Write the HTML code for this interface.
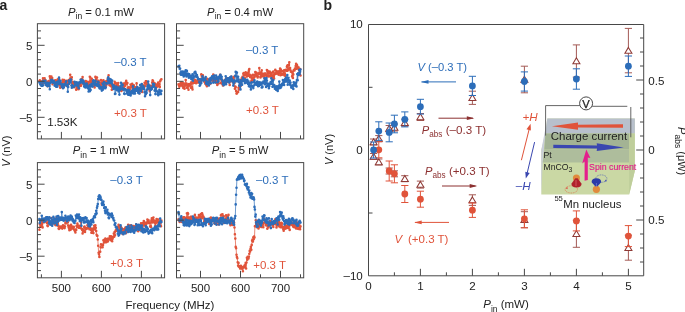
<!DOCTYPE html>
<html><head><meta charset="utf-8"><title>Figure</title>
<style>
html,body{margin:0;padding:0;background:#fff;}
svg{display:block;}
text{font-family:'Liberation Sans', Arial, Helvetica, sans-serif;}
</style></head><body>
<svg width="685" height="312" viewBox="0 0 685 312">
<rect width="685" height="312" fill="#fff"/>
<g fill="#222">
<g>
<clipPath id="c0"><rect x="37.4" y="23.7" width="127.2" height="115.2"/></clipPath>
<polyline clip-path="url(#c0)" points="39.4,81.0 39.8,80.3 40.2,81.8 40.6,81.9 41.0,81.9 41.4,82.8 41.8,84.5 42.2,83.8 42.6,80.7 43.0,78.2 43.4,82.8 43.8,82.0 44.2,81.0 44.6,78.3 45.0,81.6 45.4,80.1 45.8,84.7 46.2,83.5 46.6,84.0 47.0,82.1 47.4,82.2 47.8,86.2 48.2,84.5 48.6,81.1 49.0,82.1 49.4,83.3 49.8,76.4 50.2,77.7 50.6,78.0 51.0,80.2 51.4,76.6 51.8,78.6 52.2,78.0 52.6,84.2 53.0,83.0 53.4,81.0 53.8,81.9 54.2,80.8 54.6,82.5 55.0,82.8 55.4,80.3 55.8,80.8 56.2,80.7 56.6,83.7 57.0,84.0 57.4,80.5 57.8,79.3 58.2,80.3 58.6,84.4 59.0,83.1 59.4,81.8 59.8,85.3 60.2,87.7 60.6,85.1 61.0,83.0 61.4,85.8 61.8,85.9 62.2,84.8 62.6,79.8 63.0,82.0 63.4,80.4 63.8,80.8 64.2,80.1 64.6,82.8 65.0,81.2 65.4,84.4 65.8,83.0 66.2,85.4 66.6,80.7 67.0,83.3 67.4,84.3 67.8,83.3 68.2,82.7 68.6,80.2 69.0,84.0 69.4,81.9 69.8,79.4 70.2,74.7 70.6,78.2 71.0,79.6 71.4,79.5 71.8,77.2 72.2,83.0 72.6,85.4 73.0,82.1 73.4,84.8 73.8,84.5 74.2,87.3 74.6,83.3 75.0,83.7 75.4,84.3 75.8,84.9 76.2,89.7 76.6,85.8 77.0,88.3 77.4,87.3 77.8,85.5 78.2,88.4 78.6,89.3 79.0,85.1 79.4,86.2 79.8,84.1 80.2,83.9 80.6,84.1 81.0,85.7 81.4,79.4 81.8,80.1 82.2,79.4 82.6,77.1 83.0,80.9 83.4,84.1 83.8,83.7 84.2,83.1 84.6,83.3 85.0,81.7 85.4,85.3 85.8,81.0 86.2,85.7 86.6,82.4 87.0,85.5 87.4,84.3 87.8,81.8 88.2,82.4 88.6,83.1 89.0,85.1 89.4,82.1 89.8,76.8 90.2,77.2 90.6,80.8 91.0,82.1 91.4,83.2 91.8,78.8 92.2,82.1 92.6,84.1 93.0,84.4 93.4,84.8 93.8,85.8 94.2,86.3 94.6,87.5 95.0,83.9 95.4,76.9 95.8,81.6 96.2,79.5 96.6,77.8 97.0,77.5 97.4,82.0 97.8,81.7 98.2,81.7 98.6,80.9 99.0,83.6 99.4,82.6 99.8,86.4 100.2,84.4 100.6,85.3 101.0,80.1 101.4,87.8 101.8,82.8 102.2,83.5 102.6,81.1 103.0,81.7 103.4,80.4 103.8,86.1 104.2,82.4 104.6,85.7 105.0,84.4 105.4,81.9 105.8,84.8 106.2,85.6 106.6,81.0 107.0,83.6 107.4,81.4 107.8,78.3 108.2,78.2 108.6,75.3 109.0,80.4 109.4,85.1 109.8,82.9 110.2,83.9 110.6,85.9 111.0,83.8 111.4,86.4 111.8,89.8 112.2,84.5 112.6,86.6 113.0,85.6 113.4,85.9 113.8,84.5 114.2,85.0 114.6,81.7 115.0,83.2 115.4,82.8 115.8,83.0 116.2,86.8 116.6,85.6 117.0,85.3 117.4,84.7 117.8,88.3 118.2,83.0 118.6,86.1 119.0,89.1 119.4,89.8 119.8,87.3 120.2,87.5 120.6,89.9 121.0,88.6 121.4,91.0 121.8,88.9 122.2,90.0 122.6,89.1 123.0,87.6 123.4,83.5 123.8,88.4 124.2,85.7 124.6,86.3 125.0,83.3 125.4,85.6 125.8,82.4 126.2,80.9 126.6,83.8 127.0,83.6 127.4,83.1 127.8,87.8 128.2,88.4 128.6,88.2 129.0,87.3 129.4,88.1 129.8,89.8 130.2,87.6 130.6,84.5 131.0,85.2 131.4,85.4 131.8,86.1 132.2,83.7 132.6,88.3 133.0,90.1 133.4,90.0 133.8,85.3 134.2,87.9 134.6,87.7 135.0,90.7 135.4,87.4 135.8,88.7 136.2,87.7 136.6,83.4 137.0,88.0 137.4,90.5 137.8,88.2 138.2,89.2 138.6,88.2 139.0,90.8 139.4,93.2 139.8,89.7 140.2,88.4 140.6,89.5 141.0,85.7 141.4,88.7 141.8,88.0 142.2,91.9 142.6,87.9 143.0,85.4 143.4,87.3 143.8,87.5 144.2,86.6 144.6,82.7 145.0,86.2 145.4,83.3 145.8,81.3 146.2,81.3 146.6,84.3 147.0,81.8 147.4,84.6 147.8,84.5 148.2,86.2 148.6,89.3 149.0,88.4 149.4,87.2 149.8,91.2 150.2,88.1 150.6,85.7 151.0,88.6 151.4,86.1 151.8,87.6 152.2,82.5 152.6,80.4 153.0,81.1 153.4,84.7 153.8,82.8 154.2,84.9 154.6,84.9 155.0,83.5 155.4,89.5 155.8,84.5 156.2,87.6 156.6,86.0 157.0,86.6 157.4,86.6 157.8,83.9 158.2,82.6 158.6,85.1 159.0,84.1 159.4,84.3 159.8,86.9 160.2,81.2 160.6,80.4 161.0,79.8 161.4,79.2" fill="none" stroke="#e0533a" stroke-width="0.7"/>
<path clip-path="url(#c0)" d="M39.4 81.0h0M39.8 80.3h0M40.2 81.8h0M40.6 81.9h0M41.0 81.9h0M41.4 82.8h0M41.8 84.5h0M42.2 83.8h0M42.6 80.7h0M43.0 78.2h0M43.4 82.8h0M43.8 82.0h0M44.2 81.0h0M44.6 78.3h0M45.0 81.6h0M45.4 80.1h0M45.8 84.7h0M46.2 83.5h0M46.6 84.0h0M47.0 82.1h0M47.4 82.2h0M47.8 86.2h0M48.2 84.5h0M48.6 81.1h0M49.0 82.1h0M49.4 83.3h0M49.8 76.4h0M50.2 77.7h0M50.6 78.0h0M51.0 80.2h0M51.4 76.6h0M51.8 78.6h0M52.2 78.0h0M52.6 84.2h0M53.0 83.0h0M53.4 81.0h0M53.8 81.9h0M54.2 80.8h0M54.6 82.5h0M55.0 82.8h0M55.4 80.3h0M55.8 80.8h0M56.2 80.7h0M56.6 83.7h0M57.0 84.0h0M57.4 80.5h0M57.8 79.3h0M58.2 80.3h0M58.6 84.4h0M59.0 83.1h0M59.4 81.8h0M59.8 85.3h0M60.2 87.7h0M60.6 85.1h0M61.0 83.0h0M61.4 85.8h0M61.8 85.9h0M62.2 84.8h0M62.6 79.8h0M63.0 82.0h0M63.4 80.4h0M63.8 80.8h0M64.2 80.1h0M64.6 82.8h0M65.0 81.2h0M65.4 84.4h0M65.8 83.0h0M66.2 85.4h0M66.6 80.7h0M67.0 83.3h0M67.4 84.3h0M67.8 83.3h0M68.2 82.7h0M68.6 80.2h0M69.0 84.0h0M69.4 81.9h0M69.8 79.4h0M70.2 74.7h0M70.6 78.2h0M71.0 79.6h0M71.4 79.5h0M71.8 77.2h0M72.2 83.0h0M72.6 85.4h0M73.0 82.1h0M73.4 84.8h0M73.8 84.5h0M74.2 87.3h0M74.6 83.3h0M75.0 83.7h0M75.4 84.3h0M75.8 84.9h0M76.2 89.7h0M76.6 85.8h0M77.0 88.3h0M77.4 87.3h0M77.8 85.5h0M78.2 88.4h0M78.6 89.3h0M79.0 85.1h0M79.4 86.2h0M79.8 84.1h0M80.2 83.9h0M80.6 84.1h0M81.0 85.7h0M81.4 79.4h0M81.8 80.1h0M82.2 79.4h0M82.6 77.1h0M83.0 80.9h0M83.4 84.1h0M83.8 83.7h0M84.2 83.1h0M84.6 83.3h0M85.0 81.7h0M85.4 85.3h0M85.8 81.0h0M86.2 85.7h0M86.6 82.4h0M87.0 85.5h0M87.4 84.3h0M87.8 81.8h0M88.2 82.4h0M88.6 83.1h0M89.0 85.1h0M89.4 82.1h0M89.8 76.8h0M90.2 77.2h0M90.6 80.8h0M91.0 82.1h0M91.4 83.2h0M91.8 78.8h0M92.2 82.1h0M92.6 84.1h0M93.0 84.4h0M93.4 84.8h0M93.8 85.8h0M94.2 86.3h0M94.6 87.5h0M95.0 83.9h0M95.4 76.9h0M95.8 81.6h0M96.2 79.5h0M96.6 77.8h0M97.0 77.5h0M97.4 82.0h0M97.8 81.7h0M98.2 81.7h0M98.6 80.9h0M99.0 83.6h0M99.4 82.6h0M99.8 86.4h0M100.2 84.4h0M100.6 85.3h0M101.0 80.1h0M101.4 87.8h0M101.8 82.8h0M102.2 83.5h0M102.6 81.1h0M103.0 81.7h0M103.4 80.4h0M103.8 86.1h0M104.2 82.4h0M104.6 85.7h0M105.0 84.4h0M105.4 81.9h0M105.8 84.8h0M106.2 85.6h0M106.6 81.0h0M107.0 83.6h0M107.4 81.4h0M107.8 78.3h0M108.2 78.2h0M108.6 75.3h0M109.0 80.4h0M109.4 85.1h0M109.8 82.9h0M110.2 83.9h0M110.6 85.9h0M111.0 83.8h0M111.4 86.4h0M111.8 89.8h0M112.2 84.5h0M112.6 86.6h0M113.0 85.6h0M113.4 85.9h0M113.8 84.5h0M114.2 85.0h0M114.6 81.7h0M115.0 83.2h0M115.4 82.8h0M115.8 83.0h0M116.2 86.8h0M116.6 85.6h0M117.0 85.3h0M117.4 84.7h0M117.8 88.3h0M118.2 83.0h0M118.6 86.1h0M119.0 89.1h0M119.4 89.8h0M119.8 87.3h0M120.2 87.5h0M120.6 89.9h0M121.0 88.6h0M121.4 91.0h0M121.8 88.9h0M122.2 90.0h0M122.6 89.1h0M123.0 87.6h0M123.4 83.5h0M123.8 88.4h0M124.2 85.7h0M124.6 86.3h0M125.0 83.3h0M125.4 85.6h0M125.8 82.4h0M126.2 80.9h0M126.6 83.8h0M127.0 83.6h0M127.4 83.1h0M127.8 87.8h0M128.2 88.4h0M128.6 88.2h0M129.0 87.3h0M129.4 88.1h0M129.8 89.8h0M130.2 87.6h0M130.6 84.5h0M131.0 85.2h0M131.4 85.4h0M131.8 86.1h0M132.2 83.7h0M132.6 88.3h0M133.0 90.1h0M133.4 90.0h0M133.8 85.3h0M134.2 87.9h0M134.6 87.7h0M135.0 90.7h0M135.4 87.4h0M135.8 88.7h0M136.2 87.7h0M136.6 83.4h0M137.0 88.0h0M137.4 90.5h0M137.8 88.2h0M138.2 89.2h0M138.6 88.2h0M139.0 90.8h0M139.4 93.2h0M139.8 89.7h0M140.2 88.4h0M140.6 89.5h0M141.0 85.7h0M141.4 88.7h0M141.8 88.0h0M142.2 91.9h0M142.6 87.9h0M143.0 85.4h0M143.4 87.3h0M143.8 87.5h0M144.2 86.6h0M144.6 82.7h0M145.0 86.2h0M145.4 83.3h0M145.8 81.3h0M146.2 81.3h0M146.6 84.3h0M147.0 81.8h0M147.4 84.6h0M147.8 84.5h0M148.2 86.2h0M148.6 89.3h0M149.0 88.4h0M149.4 87.2h0M149.8 91.2h0M150.2 88.1h0M150.6 85.7h0M151.0 88.6h0M151.4 86.1h0M151.8 87.6h0M152.2 82.5h0M152.6 80.4h0M153.0 81.1h0M153.4 84.7h0M153.8 82.8h0M154.2 84.9h0M154.6 84.9h0M155.0 83.5h0M155.4 89.5h0M155.8 84.5h0M156.2 87.6h0M156.6 86.0h0M157.0 86.6h0M157.4 86.6h0M157.8 83.9h0M158.2 82.6h0M158.6 85.1h0M159.0 84.1h0M159.4 84.3h0M159.8 86.9h0M160.2 81.2h0M160.6 80.4h0M161.0 79.8h0M161.4 79.2h0" stroke="#e0533a" stroke-width="2.6" stroke-linecap="round"/>
<polyline clip-path="url(#c0)" points="39.4,82.5 39.8,82.7 40.2,84.1 40.6,84.8 41.0,84.5 41.4,85.7 41.8,85.4 42.2,81.8 42.6,85.8 43.0,85.3 43.4,81.9 43.8,80.9 44.2,81.8 44.6,82.7 45.0,81.9 45.4,80.8 45.8,84.8 46.2,82.7 46.6,85.4 47.0,83.9 47.4,86.1 47.8,82.9 48.2,85.1 48.6,83.8 49.0,84.7 49.4,86.0 49.8,89.2 50.2,83.0 50.6,82.2 51.0,80.1 51.4,80.2 51.8,79.7 52.2,80.4 52.6,82.5 53.0,80.5 53.4,82.8 53.8,81.0 54.2,82.2 54.6,85.6 55.0,84.7 55.4,82.7 55.8,83.0 56.2,86.7 56.6,85.0 57.0,82.0 57.4,86.6 57.8,81.5 58.2,83.2 58.6,84.0 59.0,77.5 59.4,79.5 59.8,82.9 60.2,82.2 60.6,81.1 61.0,84.4 61.4,84.6 61.8,87.0 62.2,85.5 62.6,84.3 63.0,88.3 63.4,87.4 63.8,87.4 64.2,84.2 64.6,85.3 65.0,84.7 65.4,84.5 65.8,82.0 66.2,81.2 66.6,85.3 67.0,86.1 67.4,85.5 67.8,91.7 68.2,87.0 68.6,84.1 69.0,80.5 69.4,81.8 69.8,82.1 70.2,82.4 70.6,81.4 71.0,79.5 71.4,85.5 71.8,87.7 72.2,85.2 72.6,86.8 73.0,86.6 73.4,87.0 73.8,86.3 74.2,86.6 74.6,81.9 75.0,83.3 75.4,84.7 75.8,82.6 76.2,85.3 76.6,82.2 77.0,84.3 77.4,82.6 77.8,86.0 78.2,84.4 78.6,87.9 79.0,88.2 79.4,82.4 79.8,83.0 80.2,82.1 80.6,79.7 81.0,81.1 81.4,82.2 81.8,79.7 82.2,81.1 82.6,81.8 83.0,83.2 83.4,80.8 83.8,82.6 84.2,86.6 84.6,85.3 85.0,84.1 85.4,87.4 85.8,83.7 86.2,85.9 86.6,83.5 87.0,84.2 87.4,86.2 87.8,88.1 88.2,87.2 88.6,91.5 89.0,89.4 89.4,85.7 89.8,91.3 90.2,84.9 90.6,90.1 91.0,85.4 91.4,86.3 91.8,83.7 92.2,84.3 92.6,86.6 93.0,81.0 93.4,80.2 93.8,82.8 94.2,83.5 94.6,82.9 95.0,85.3 95.4,80.7 95.8,85.2 96.2,84.1 96.6,84.7 97.0,84.0 97.4,85.9 97.8,81.8 98.2,86.1 98.6,82.3 99.0,85.0 99.4,88.1 99.8,88.4 100.2,86.9 100.6,87.2 101.0,87.3 101.4,88.5 101.8,90.6 102.2,87.4 102.6,83.5 103.0,89.6 103.4,88.2 103.8,85.3 104.2,82.1 104.6,87.3 105.0,86.5 105.4,88.3 105.8,87.5 106.2,83.4 106.6,83.5 107.0,83.4 107.4,83.5 107.8,79.6 108.2,77.4 108.6,79.2 109.0,81.8 109.4,82.9 109.8,79.1 110.2,81.7 110.6,79.2 111.0,82.3 111.4,83.1 111.8,83.5 112.2,80.5 112.6,85.1 113.0,86.5 113.4,88.9 113.8,85.6 114.2,87.1 114.6,88.5 115.0,93.9 115.4,93.7 115.8,88.5 116.2,86.6 116.6,90.1 117.0,88.6 117.4,89.8 117.8,88.6 118.2,87.5 118.6,91.5 119.0,88.7 119.4,94.6 119.8,89.9 120.2,88.8 120.6,86.4 121.0,82.7 121.4,83.5 121.8,89.1 122.2,89.1 122.6,84.9 123.0,89.1 123.4,88.5 123.8,89.8 124.2,93.7 124.6,94.0 125.0,89.2 125.4,89.2 125.8,89.8 126.2,90.1 126.6,91.0 127.0,93.4 127.4,90.5 127.8,92.3 128.2,94.7 128.6,89.9 129.0,91.4 129.4,90.9 129.8,93.3 130.2,94.9 130.6,95.5 131.0,93.8 131.4,92.0 131.8,93.0 132.2,90.6 132.6,91.3 133.0,86.4 133.4,93.4 133.8,89.2 134.2,92.1 134.6,91.3 135.0,93.5 135.4,90.9 135.8,88.8 136.2,89.3 136.6,90.7 137.0,89.8 137.4,87.1 137.8,89.1 138.2,92.7 138.6,90.1 139.0,93.3 139.4,93.5 139.8,88.4 140.2,85.0 140.6,89.1 141.0,91.3 141.4,89.1 141.8,84.0 142.2,86.2 142.6,88.4 143.0,87.9 143.4,86.4 143.8,88.0 144.2,89.2 144.6,92.3 145.0,96.2 145.4,92.4 145.8,94.3 146.2,91.2 146.6,92.9 147.0,89.5 147.4,86.2 147.8,87.5 148.2,81.5 148.6,84.5 149.0,88.4 149.4,85.9 149.8,88.0 150.2,95.1 150.6,88.7 151.0,89.8 151.4,88.3 151.8,89.1 152.2,87.5 152.6,86.7 153.0,83.9 153.4,86.7 153.8,86.3 154.2,84.4 154.6,90.6 155.0,90.3 155.4,94.1 155.8,87.9 156.2,90.4 156.6,91.2 157.0,91.3 157.4,91.6 157.8,94.2 158.2,95.3 158.6,94.7 159.0,92.2 159.4,89.7 159.8,91.5 160.2,91.6 160.6,93.7 161.0,94.1 161.4,90.9" fill="none" stroke="#2c6db9" stroke-width="0.7"/>
<path clip-path="url(#c0)" d="M39.4 82.5h0M39.8 82.7h0M40.2 84.1h0M40.6 84.8h0M41.0 84.5h0M41.4 85.7h0M41.8 85.4h0M42.2 81.8h0M42.6 85.8h0M43.0 85.3h0M43.4 81.9h0M43.8 80.9h0M44.2 81.8h0M44.6 82.7h0M45.0 81.9h0M45.4 80.8h0M45.8 84.8h0M46.2 82.7h0M46.6 85.4h0M47.0 83.9h0M47.4 86.1h0M47.8 82.9h0M48.2 85.1h0M48.6 83.8h0M49.0 84.7h0M49.4 86.0h0M49.8 89.2h0M50.2 83.0h0M50.6 82.2h0M51.0 80.1h0M51.4 80.2h0M51.8 79.7h0M52.2 80.4h0M52.6 82.5h0M53.0 80.5h0M53.4 82.8h0M53.8 81.0h0M54.2 82.2h0M54.6 85.6h0M55.0 84.7h0M55.4 82.7h0M55.8 83.0h0M56.2 86.7h0M56.6 85.0h0M57.0 82.0h0M57.4 86.6h0M57.8 81.5h0M58.2 83.2h0M58.6 84.0h0M59.0 77.5h0M59.4 79.5h0M59.8 82.9h0M60.2 82.2h0M60.6 81.1h0M61.0 84.4h0M61.4 84.6h0M61.8 87.0h0M62.2 85.5h0M62.6 84.3h0M63.0 88.3h0M63.4 87.4h0M63.8 87.4h0M64.2 84.2h0M64.6 85.3h0M65.0 84.7h0M65.4 84.5h0M65.8 82.0h0M66.2 81.2h0M66.6 85.3h0M67.0 86.1h0M67.4 85.5h0M67.8 91.7h0M68.2 87.0h0M68.6 84.1h0M69.0 80.5h0M69.4 81.8h0M69.8 82.1h0M70.2 82.4h0M70.6 81.4h0M71.0 79.5h0M71.4 85.5h0M71.8 87.7h0M72.2 85.2h0M72.6 86.8h0M73.0 86.6h0M73.4 87.0h0M73.8 86.3h0M74.2 86.6h0M74.6 81.9h0M75.0 83.3h0M75.4 84.7h0M75.8 82.6h0M76.2 85.3h0M76.6 82.2h0M77.0 84.3h0M77.4 82.6h0M77.8 86.0h0M78.2 84.4h0M78.6 87.9h0M79.0 88.2h0M79.4 82.4h0M79.8 83.0h0M80.2 82.1h0M80.6 79.7h0M81.0 81.1h0M81.4 82.2h0M81.8 79.7h0M82.2 81.1h0M82.6 81.8h0M83.0 83.2h0M83.4 80.8h0M83.8 82.6h0M84.2 86.6h0M84.6 85.3h0M85.0 84.1h0M85.4 87.4h0M85.8 83.7h0M86.2 85.9h0M86.6 83.5h0M87.0 84.2h0M87.4 86.2h0M87.8 88.1h0M88.2 87.2h0M88.6 91.5h0M89.0 89.4h0M89.4 85.7h0M89.8 91.3h0M90.2 84.9h0M90.6 90.1h0M91.0 85.4h0M91.4 86.3h0M91.8 83.7h0M92.2 84.3h0M92.6 86.6h0M93.0 81.0h0M93.4 80.2h0M93.8 82.8h0M94.2 83.5h0M94.6 82.9h0M95.0 85.3h0M95.4 80.7h0M95.8 85.2h0M96.2 84.1h0M96.6 84.7h0M97.0 84.0h0M97.4 85.9h0M97.8 81.8h0M98.2 86.1h0M98.6 82.3h0M99.0 85.0h0M99.4 88.1h0M99.8 88.4h0M100.2 86.9h0M100.6 87.2h0M101.0 87.3h0M101.4 88.5h0M101.8 90.6h0M102.2 87.4h0M102.6 83.5h0M103.0 89.6h0M103.4 88.2h0M103.8 85.3h0M104.2 82.1h0M104.6 87.3h0M105.0 86.5h0M105.4 88.3h0M105.8 87.5h0M106.2 83.4h0M106.6 83.5h0M107.0 83.4h0M107.4 83.5h0M107.8 79.6h0M108.2 77.4h0M108.6 79.2h0M109.0 81.8h0M109.4 82.9h0M109.8 79.1h0M110.2 81.7h0M110.6 79.2h0M111.0 82.3h0M111.4 83.1h0M111.8 83.5h0M112.2 80.5h0M112.6 85.1h0M113.0 86.5h0M113.4 88.9h0M113.8 85.6h0M114.2 87.1h0M114.6 88.5h0M115.0 93.9h0M115.4 93.7h0M115.8 88.5h0M116.2 86.6h0M116.6 90.1h0M117.0 88.6h0M117.4 89.8h0M117.8 88.6h0M118.2 87.5h0M118.6 91.5h0M119.0 88.7h0M119.4 94.6h0M119.8 89.9h0M120.2 88.8h0M120.6 86.4h0M121.0 82.7h0M121.4 83.5h0M121.8 89.1h0M122.2 89.1h0M122.6 84.9h0M123.0 89.1h0M123.4 88.5h0M123.8 89.8h0M124.2 93.7h0M124.6 94.0h0M125.0 89.2h0M125.4 89.2h0M125.8 89.8h0M126.2 90.1h0M126.6 91.0h0M127.0 93.4h0M127.4 90.5h0M127.8 92.3h0M128.2 94.7h0M128.6 89.9h0M129.0 91.4h0M129.4 90.9h0M129.8 93.3h0M130.2 94.9h0M130.6 95.5h0M131.0 93.8h0M131.4 92.0h0M131.8 93.0h0M132.2 90.6h0M132.6 91.3h0M133.0 86.4h0M133.4 93.4h0M133.8 89.2h0M134.2 92.1h0M134.6 91.3h0M135.0 93.5h0M135.4 90.9h0M135.8 88.8h0M136.2 89.3h0M136.6 90.7h0M137.0 89.8h0M137.4 87.1h0M137.8 89.1h0M138.2 92.7h0M138.6 90.1h0M139.0 93.3h0M139.4 93.5h0M139.8 88.4h0M140.2 85.0h0M140.6 89.1h0M141.0 91.3h0M141.4 89.1h0M141.8 84.0h0M142.2 86.2h0M142.6 88.4h0M143.0 87.9h0M143.4 86.4h0M143.8 88.0h0M144.2 89.2h0M144.6 92.3h0M145.0 96.2h0M145.4 92.4h0M145.8 94.3h0M146.2 91.2h0M146.6 92.9h0M147.0 89.5h0M147.4 86.2h0M147.8 87.5h0M148.2 81.5h0M148.6 84.5h0M149.0 88.4h0M149.4 85.9h0M149.8 88.0h0M150.2 95.1h0M150.6 88.7h0M151.0 89.8h0M151.4 88.3h0M151.8 89.1h0M152.2 87.5h0M152.6 86.7h0M153.0 83.9h0M153.4 86.7h0M153.8 86.3h0M154.2 84.4h0M154.6 90.6h0M155.0 90.3h0M155.4 94.1h0M155.8 87.9h0M156.2 90.4h0M156.6 91.2h0M157.0 91.3h0M157.4 91.6h0M157.8 94.2h0M158.2 95.3h0M158.6 94.7h0M159.0 92.2h0M159.4 89.7h0M159.8 91.5h0M160.2 91.6h0M160.6 93.7h0M161.0 94.1h0M161.4 90.9h0" stroke="#2c6db9" stroke-width="2.6" stroke-linecap="round"/>
<rect x="37.4" y="23.7" width="127.2" height="115.2" fill="none" stroke="#474747" stroke-width="1"/>
<path d="M37.4 131.7h3.6M37.4 124.5h3.6M37.4 117.3h7.2M37.4 110.1h3.6M37.4 102.9h3.6M37.4 95.7h3.6M37.4 88.5h3.6M37.4 81.3h7.2M37.4 74.1h3.6M37.4 66.9h3.6M37.4 59.7h3.6M37.4 52.5h3.6M37.4 45.3h7.2M37.4 38.1h3.6M37.4 30.9h3.6M41.4 138.9v-3.5M61.4 138.9v-7.0M81.4 138.9v-3.5M101.4 138.9v-7.0M121.4 138.9v-3.5M141.4 138.9v-7.0M161.4 138.9v-3.5" stroke="#474747" stroke-width="1" fill="none"/>
<text x="101.0" y="15.5" text-anchor="middle" font-size="11.3"><tspan font-style="italic">P</tspan><tspan font-size="8.5" dy="3.7">in</tspan><tspan dy="-3.7"> = 0.1 mW</tspan></text>
<text x="32.5" y="49.6" text-anchor="end" font-size="11.5">5</text>
<text x="32.5" y="85.6" text-anchor="end" font-size="11.5">0</text>
<text x="32.5" y="121.6" text-anchor="end" font-size="11.5"><tspan dy="-0.9">–</tspan><tspan dy="0.9">5</tspan></text>
</g>
<g>
<clipPath id="c1"><rect x="176.5" y="23.7" width="127.2" height="115.2"/></clipPath>
<polyline clip-path="url(#c1)" points="178.5,84.4 178.9,85.3 179.3,86.7 179.7,85.5 180.1,84.9 180.5,83.6 180.9,82.5 181.3,85.4 181.7,82.5 182.1,85.3 182.5,84.4 182.9,86.8 183.3,88.0 183.7,83.4 184.1,87.9 184.5,88.8 184.9,85.8 185.3,84.6 185.7,80.1 186.1,84.0 186.5,83.5 186.9,87.8 187.3,84.9 187.7,86.4 188.1,84.7 188.5,89.7 188.9,85.8 189.3,84.0 189.7,85.5 190.1,84.3 190.5,84.7 190.9,87.7 191.3,82.4 191.7,83.4 192.1,87.3 192.5,89.4 192.9,83.3 193.3,82.8 193.7,82.7 194.1,80.3 194.5,82.6 194.9,79.8 195.3,80.7 195.7,80.8 196.1,83.3 196.5,80.6 196.9,80.8 197.3,82.5 197.7,81.9 198.1,82.4 198.5,80.9 198.9,82.0 199.3,82.6 199.7,79.9 200.1,80.7 200.5,81.7 200.9,81.0 201.3,74.4 201.7,75.5 202.1,76.5 202.5,78.9 202.9,75.3 203.3,77.8 203.7,80.2 204.1,80.5 204.5,81.9 204.9,80.7 205.3,83.8 205.7,79.9 206.1,84.7 206.5,81.8 206.9,86.3 207.3,78.9 207.7,83.8 208.1,82.6 208.5,81.3 208.9,79.7 209.3,81.9 209.7,79.7 210.1,83.7 210.5,80.2 210.9,78.9 211.3,79.5 211.7,79.9 212.1,79.9 212.5,80.7 212.9,77.3 213.3,74.5 213.7,80.5 214.1,77.2 214.5,78.0 214.9,77.7 215.3,81.1 215.7,80.0 216.1,82.4 216.5,81.2 216.9,82.7 217.3,84.9 217.7,82.4 218.1,81.4 218.5,83.4 218.9,78.2 219.3,78.4 219.7,78.1 220.1,74.9 220.5,76.5 220.9,83.1 221.3,83.0 221.7,79.8 222.1,80.5 222.5,84.1 222.9,85.4 223.3,82.7 223.7,81.6 224.1,84.0 224.5,80.6 224.9,82.4 225.3,83.1 225.7,79.3 226.1,82.5 226.5,80.9 226.9,78.3 227.3,79.5 227.7,81.8 228.1,80.9 228.5,82.1 228.9,78.3 229.3,81.3 229.7,85.0 230.1,81.5 230.5,80.8 230.9,79.9 231.3,76.7 231.7,77.7 232.1,80.3 232.5,80.7 232.9,82.2 233.3,78.6 233.7,80.5 234.1,76.8 234.5,83.0 234.9,88.7 235.3,86.5 235.7,87.0 236.1,91.0 236.5,93.6 236.9,93.5 237.3,92.2 237.7,92.3 238.1,92.0 238.5,87.8 238.9,89.4 239.3,85.7 239.7,86.6 240.1,83.5 240.5,80.6 240.9,85.6 241.3,81.1 241.7,78.4 242.1,78.6 242.5,76.7 242.9,78.7 243.3,73.8 243.7,73.0 244.1,74.9 244.5,78.3 244.9,78.2 245.3,74.8 245.7,72.2 246.1,74.8 246.5,73.6 246.9,76.5 247.3,75.0 247.7,73.7 248.1,72.5 248.5,75.6 248.9,70.4 249.3,69.0 249.7,74.8 250.1,77.1 250.5,75.4 250.9,76.6 251.3,81.3 251.7,75.8 252.1,78.3 252.5,80.5 252.9,74.7 253.3,78.5 253.7,79.7 254.1,77.4 254.5,77.1 254.9,74.9 255.3,72.0 255.7,74.2 256.1,75.5 256.5,72.7 256.9,75.2 257.3,76.7 257.7,77.4 258.1,76.5 258.5,73.8 258.9,73.3 259.3,68.1 259.7,74.0 260.1,73.8 260.5,77.4 260.9,74.6 261.3,72.1 261.7,70.2 262.1,76.2 262.5,74.0 262.9,74.4 263.3,73.9 263.7,76.2 264.1,74.4 264.5,78.6 264.9,73.5 265.3,73.6 265.7,74.8 266.1,75.6 266.5,76.5 266.9,70.1 267.3,76.0 267.7,70.9 268.1,73.2 268.5,75.9 268.9,76.5 269.3,72.9 269.7,71.6 270.1,76.0 270.5,76.3 270.9,74.2 271.3,74.7 271.7,72.9 272.1,77.8 272.5,75.6 272.9,79.5 273.3,71.6 273.7,76.4 274.1,78.5 274.5,74.5 274.9,73.5 275.3,69.8 275.7,73.7 276.1,73.7 276.5,73.1 276.9,71.3 277.3,73.5 277.7,71.5 278.1,73.5 278.5,74.6 278.9,71.6 279.3,71.0 279.7,72.6 280.1,68.5 280.5,75.2 280.9,69.6 281.3,70.9 281.7,73.7 282.1,74.8 282.5,74.6 282.9,73.7 283.3,71.0 283.7,72.3 284.1,70.4 284.5,75.4 284.9,73.8 285.3,75.9 285.7,69.7 286.1,70.4 286.5,70.7 286.9,66.7 287.3,65.6 287.7,70.6 288.1,65.0 288.5,69.3 288.9,64.9 289.3,62.2 289.7,68.5 290.1,68.0 290.5,70.4 290.9,71.8 291.3,71.6 291.7,72.1 292.1,76.4 292.5,71.8 292.9,77.9 293.3,74.4 293.7,70.3 294.1,70.4 294.5,70.5 294.9,68.6 295.3,69.0 295.7,66.0 296.1,63.9 296.5,68.8 296.9,64.7 297.3,66.3 297.7,68.3 298.1,68.1 298.5,67.4 298.9,69.7 299.3,70.4 299.7,72.5 300.1,69.1 300.5,75.5" fill="none" stroke="#e0533a" stroke-width="0.7"/>
<path clip-path="url(#c1)" d="M178.5 84.4h0M178.9 85.3h0M179.3 86.7h0M179.7 85.5h0M180.1 84.9h0M180.5 83.6h0M180.9 82.5h0M181.3 85.4h0M181.7 82.5h0M182.1 85.3h0M182.5 84.4h0M182.9 86.8h0M183.3 88.0h0M183.7 83.4h0M184.1 87.9h0M184.5 88.8h0M184.9 85.8h0M185.3 84.6h0M185.7 80.1h0M186.1 84.0h0M186.5 83.5h0M186.9 87.8h0M187.3 84.9h0M187.7 86.4h0M188.1 84.7h0M188.5 89.7h0M188.9 85.8h0M189.3 84.0h0M189.7 85.5h0M190.1 84.3h0M190.5 84.7h0M190.9 87.7h0M191.3 82.4h0M191.7 83.4h0M192.1 87.3h0M192.5 89.4h0M192.9 83.3h0M193.3 82.8h0M193.7 82.7h0M194.1 80.3h0M194.5 82.6h0M194.9 79.8h0M195.3 80.7h0M195.7 80.8h0M196.1 83.3h0M196.5 80.6h0M196.9 80.8h0M197.3 82.5h0M197.7 81.9h0M198.1 82.4h0M198.5 80.9h0M198.9 82.0h0M199.3 82.6h0M199.7 79.9h0M200.1 80.7h0M200.5 81.7h0M200.9 81.0h0M201.3 74.4h0M201.7 75.5h0M202.1 76.5h0M202.5 78.9h0M202.9 75.3h0M203.3 77.8h0M203.7 80.2h0M204.1 80.5h0M204.5 81.9h0M204.9 80.7h0M205.3 83.8h0M205.7 79.9h0M206.1 84.7h0M206.5 81.8h0M206.9 86.3h0M207.3 78.9h0M207.7 83.8h0M208.1 82.6h0M208.5 81.3h0M208.9 79.7h0M209.3 81.9h0M209.7 79.7h0M210.1 83.7h0M210.5 80.2h0M210.9 78.9h0M211.3 79.5h0M211.7 79.9h0M212.1 79.9h0M212.5 80.7h0M212.9 77.3h0M213.3 74.5h0M213.7 80.5h0M214.1 77.2h0M214.5 78.0h0M214.9 77.7h0M215.3 81.1h0M215.7 80.0h0M216.1 82.4h0M216.5 81.2h0M216.9 82.7h0M217.3 84.9h0M217.7 82.4h0M218.1 81.4h0M218.5 83.4h0M218.9 78.2h0M219.3 78.4h0M219.7 78.1h0M220.1 74.9h0M220.5 76.5h0M220.9 83.1h0M221.3 83.0h0M221.7 79.8h0M222.1 80.5h0M222.5 84.1h0M222.9 85.4h0M223.3 82.7h0M223.7 81.6h0M224.1 84.0h0M224.5 80.6h0M224.9 82.4h0M225.3 83.1h0M225.7 79.3h0M226.1 82.5h0M226.5 80.9h0M226.9 78.3h0M227.3 79.5h0M227.7 81.8h0M228.1 80.9h0M228.5 82.1h0M228.9 78.3h0M229.3 81.3h0M229.7 85.0h0M230.1 81.5h0M230.5 80.8h0M230.9 79.9h0M231.3 76.7h0M231.7 77.7h0M232.1 80.3h0M232.5 80.7h0M232.9 82.2h0M233.3 78.6h0M233.7 80.5h0M234.1 76.8h0M234.5 83.0h0M234.9 88.7h0M235.3 86.5h0M235.7 87.0h0M236.1 91.0h0M236.5 93.6h0M236.9 93.5h0M237.3 92.2h0M237.7 92.3h0M238.1 92.0h0M238.5 87.8h0M238.9 89.4h0M239.3 85.7h0M239.7 86.6h0M240.1 83.5h0M240.5 80.6h0M240.9 85.6h0M241.3 81.1h0M241.7 78.4h0M242.1 78.6h0M242.5 76.7h0M242.9 78.7h0M243.3 73.8h0M243.7 73.0h0M244.1 74.9h0M244.5 78.3h0M244.9 78.2h0M245.3 74.8h0M245.7 72.2h0M246.1 74.8h0M246.5 73.6h0M246.9 76.5h0M247.3 75.0h0M247.7 73.7h0M248.1 72.5h0M248.5 75.6h0M248.9 70.4h0M249.3 69.0h0M249.7 74.8h0M250.1 77.1h0M250.5 75.4h0M250.9 76.6h0M251.3 81.3h0M251.7 75.8h0M252.1 78.3h0M252.5 80.5h0M252.9 74.7h0M253.3 78.5h0M253.7 79.7h0M254.1 77.4h0M254.5 77.1h0M254.9 74.9h0M255.3 72.0h0M255.7 74.2h0M256.1 75.5h0M256.5 72.7h0M256.9 75.2h0M257.3 76.7h0M257.7 77.4h0M258.1 76.5h0M258.5 73.8h0M258.9 73.3h0M259.3 68.1h0M259.7 74.0h0M260.1 73.8h0M260.5 77.4h0M260.9 74.6h0M261.3 72.1h0M261.7 70.2h0M262.1 76.2h0M262.5 74.0h0M262.9 74.4h0M263.3 73.9h0M263.7 76.2h0M264.1 74.4h0M264.5 78.6h0M264.9 73.5h0M265.3 73.6h0M265.7 74.8h0M266.1 75.6h0M266.5 76.5h0M266.9 70.1h0M267.3 76.0h0M267.7 70.9h0M268.1 73.2h0M268.5 75.9h0M268.9 76.5h0M269.3 72.9h0M269.7 71.6h0M270.1 76.0h0M270.5 76.3h0M270.9 74.2h0M271.3 74.7h0M271.7 72.9h0M272.1 77.8h0M272.5 75.6h0M272.9 79.5h0M273.3 71.6h0M273.7 76.4h0M274.1 78.5h0M274.5 74.5h0M274.9 73.5h0M275.3 69.8h0M275.7 73.7h0M276.1 73.7h0M276.5 73.1h0M276.9 71.3h0M277.3 73.5h0M277.7 71.5h0M278.1 73.5h0M278.5 74.6h0M278.9 71.6h0M279.3 71.0h0M279.7 72.6h0M280.1 68.5h0M280.5 75.2h0M280.9 69.6h0M281.3 70.9h0M281.7 73.7h0M282.1 74.8h0M282.5 74.6h0M282.9 73.7h0M283.3 71.0h0M283.7 72.3h0M284.1 70.4h0M284.5 75.4h0M284.9 73.8h0M285.3 75.9h0M285.7 69.7h0M286.1 70.4h0M286.5 70.7h0M286.9 66.7h0M287.3 65.6h0M287.7 70.6h0M288.1 65.0h0M288.5 69.3h0M288.9 64.9h0M289.3 62.2h0M289.7 68.5h0M290.1 68.0h0M290.5 70.4h0M290.9 71.8h0M291.3 71.6h0M291.7 72.1h0M292.1 76.4h0M292.5 71.8h0M292.9 77.9h0M293.3 74.4h0M293.7 70.3h0M294.1 70.4h0M294.5 70.5h0M294.9 68.6h0M295.3 69.0h0M295.7 66.0h0M296.1 63.9h0M296.5 68.8h0M296.9 64.7h0M297.3 66.3h0M297.7 68.3h0M298.1 68.1h0M298.5 67.4h0M298.9 69.7h0M299.3 70.4h0M299.7 72.5h0M300.1 69.1h0M300.5 75.5h0" stroke="#e0533a" stroke-width="2.6" stroke-linecap="round"/>
<polyline clip-path="url(#c1)" points="178.5,66.4 178.9,66.1 179.3,65.8 179.7,68.8 180.1,68.6 180.5,72.9 180.9,74.7 181.3,71.9 181.7,71.8 182.1,74.6 182.5,74.7 182.9,71.5 183.3,73.1 183.7,76.5 184.1,72.9 184.5,74.7 184.9,75.1 185.3,71.4 185.7,70.2 186.1,73.7 186.5,76.4 186.9,70.9 187.3,75.4 187.7,75.4 188.1,73.7 188.5,75.1 188.9,77.7 189.3,74.4 189.7,76.3 190.1,76.9 190.5,77.0 190.9,76.0 191.3,79.1 191.7,78.1 192.1,78.9 192.5,74.4 192.9,80.7 193.3,75.4 193.7,77.7 194.1,76.7 194.5,72.5 194.9,72.4 195.3,71.7 195.7,73.3 196.1,75.8 196.5,76.9 196.9,75.1 197.3,76.9 197.7,77.5 198.1,79.3 198.5,79.1 198.9,79.0 199.3,82.3 199.7,85.8 200.1,85.2 200.5,84.1 200.9,79.2 201.3,83.0 201.7,79.7 202.1,79.8 202.5,76.4 202.9,78.2 203.3,80.8 203.7,79.2 204.1,79.5 204.5,78.6 204.9,79.6 205.3,78.8 205.7,77.0 206.1,83.4 206.5,81.4 206.9,84.1 207.3,82.5 207.7,82.1 208.1,84.4 208.5,81.8 208.9,85.5 209.3,79.3 209.7,82.2 210.1,79.2 210.5,78.0 210.9,83.2 211.3,79.6 211.7,77.9 212.1,76.4 212.5,78.0 212.9,77.5 213.3,82.6 213.7,77.7 214.1,75.6 214.5,79.2 214.9,78.8 215.3,82.5 215.7,79.1 216.1,75.5 216.5,77.3 216.9,77.5 217.3,78.9 217.7,82.3 218.1,77.3 218.5,81.0 218.9,78.5 219.3,77.7 219.7,76.1 220.1,75.4 220.5,74.8 220.9,76.4 221.3,79.0 221.7,76.7 222.1,79.8 222.5,81.2 222.9,83.9 223.3,82.0 223.7,85.3 224.1,83.6 224.5,84.3 224.9,80.9 225.3,80.0 225.7,76.3 226.1,84.2 226.5,82.1 226.9,78.7 227.3,80.9 227.7,81.3 228.1,78.4 228.5,81.3 228.9,81.1 229.3,82.5 229.7,78.3 230.1,77.4 230.5,80.4 230.9,78.4 231.3,76.6 231.7,78.7 232.1,81.2 232.5,80.3 232.9,81.2 233.3,85.6 233.7,83.4 234.1,82.5 234.5,80.5 234.9,81.4 235.3,75.9 235.7,71.9 236.1,72.0 236.5,81.3 236.9,72.6 237.3,81.2 237.7,76.9 238.1,76.8 238.5,79.2 238.9,81.9 239.3,85.5 239.7,82.4 240.1,86.5 240.5,89.4 240.9,80.3 241.3,84.1 241.7,81.2 242.1,84.8 242.5,80.5 242.9,77.9 243.3,78.8 243.7,80.5 244.1,81.1 244.5,79.6 244.9,83.1 245.3,82.3 245.7,79.7 246.1,82.6 246.5,82.3 246.9,82.5 247.3,79.7 247.7,81.5 248.1,83.9 248.5,81.4 248.9,86.2 249.3,85.2 249.7,83.0 250.1,86.7 250.5,85.3 250.9,89.4 251.3,86.4 251.7,82.4 252.1,86.2 252.5,86.3 252.9,87.3 253.3,88.1 253.7,85.8 254.1,82.0 254.5,80.3 254.9,82.8 255.3,84.3 255.7,82.7 256.1,84.7 256.5,84.1 256.9,83.4 257.3,81.6 257.7,83.3 258.1,86.3 258.5,84.5 258.9,85.9 259.3,82.2 259.7,84.0 260.1,83.7 260.5,84.8 260.9,82.6 261.3,83.9 261.7,87.5 262.1,87.5 262.5,86.9 262.9,83.0 263.3,81.6 263.7,81.5 264.1,81.3 264.5,78.2 264.9,84.2 265.3,80.1 265.7,83.1 266.1,87.0 266.5,78.0 266.9,80.6 267.3,85.8 267.7,83.5 268.1,84.7 268.5,85.8 268.9,88.2 269.3,86.0 269.7,83.7 270.1,83.7 270.5,82.3 270.9,83.8 271.3,78.2 271.7,83.8 272.1,81.3 272.5,86.7 272.9,86.7 273.3,80.0 273.7,85.4 274.1,85.0 274.5,85.6 274.9,88.8 275.3,87.3 275.7,88.0 276.1,89.7 276.5,87.4 276.9,86.2 277.3,89.0 277.7,90.9 278.1,87.8 278.5,88.4 278.9,86.1 279.3,81.6 279.7,84.8 280.1,87.9 280.5,85.0 280.9,87.5 281.3,86.4 281.7,85.6 282.1,83.9 282.5,84.2 282.9,80.0 283.3,84.2 283.7,82.2 284.1,84.9 284.5,80.0 284.9,81.7 285.3,78.7 285.7,81.2 286.1,77.6 286.5,81.4 286.9,79.6 287.3,75.0 287.7,84.7 288.1,79.6 288.5,77.8 288.9,82.3 289.3,82.4 289.7,80.6 290.1,84.8 290.5,82.6 290.9,85.5 291.3,87.6 291.7,87.4 292.1,86.2 292.5,86.0 292.9,85.2 293.3,88.9 293.7,82.4 294.1,82.5 294.5,83.5 294.9,85.6 295.3,85.2 295.7,83.2 296.1,82.6 296.5,86.4 296.9,80.1 297.3,74.0 297.7,80.2 298.1,73.4 298.5,75.0 298.9,73.7 299.3,70.0 299.7,74.2 300.1,71.7 300.5,69.5" fill="none" stroke="#2c6db9" stroke-width="0.7"/>
<path clip-path="url(#c1)" d="M178.5 66.4h0M178.9 66.1h0M179.3 65.8h0M179.7 68.8h0M180.1 68.6h0M180.5 72.9h0M180.9 74.7h0M181.3 71.9h0M181.7 71.8h0M182.1 74.6h0M182.5 74.7h0M182.9 71.5h0M183.3 73.1h0M183.7 76.5h0M184.1 72.9h0M184.5 74.7h0M184.9 75.1h0M185.3 71.4h0M185.7 70.2h0M186.1 73.7h0M186.5 76.4h0M186.9 70.9h0M187.3 75.4h0M187.7 75.4h0M188.1 73.7h0M188.5 75.1h0M188.9 77.7h0M189.3 74.4h0M189.7 76.3h0M190.1 76.9h0M190.5 77.0h0M190.9 76.0h0M191.3 79.1h0M191.7 78.1h0M192.1 78.9h0M192.5 74.4h0M192.9 80.7h0M193.3 75.4h0M193.7 77.7h0M194.1 76.7h0M194.5 72.5h0M194.9 72.4h0M195.3 71.7h0M195.7 73.3h0M196.1 75.8h0M196.5 76.9h0M196.9 75.1h0M197.3 76.9h0M197.7 77.5h0M198.1 79.3h0M198.5 79.1h0M198.9 79.0h0M199.3 82.3h0M199.7 85.8h0M200.1 85.2h0M200.5 84.1h0M200.9 79.2h0M201.3 83.0h0M201.7 79.7h0M202.1 79.8h0M202.5 76.4h0M202.9 78.2h0M203.3 80.8h0M203.7 79.2h0M204.1 79.5h0M204.5 78.6h0M204.9 79.6h0M205.3 78.8h0M205.7 77.0h0M206.1 83.4h0M206.5 81.4h0M206.9 84.1h0M207.3 82.5h0M207.7 82.1h0M208.1 84.4h0M208.5 81.8h0M208.9 85.5h0M209.3 79.3h0M209.7 82.2h0M210.1 79.2h0M210.5 78.0h0M210.9 83.2h0M211.3 79.6h0M211.7 77.9h0M212.1 76.4h0M212.5 78.0h0M212.9 77.5h0M213.3 82.6h0M213.7 77.7h0M214.1 75.6h0M214.5 79.2h0M214.9 78.8h0M215.3 82.5h0M215.7 79.1h0M216.1 75.5h0M216.5 77.3h0M216.9 77.5h0M217.3 78.9h0M217.7 82.3h0M218.1 77.3h0M218.5 81.0h0M218.9 78.5h0M219.3 77.7h0M219.7 76.1h0M220.1 75.4h0M220.5 74.8h0M220.9 76.4h0M221.3 79.0h0M221.7 76.7h0M222.1 79.8h0M222.5 81.2h0M222.9 83.9h0M223.3 82.0h0M223.7 85.3h0M224.1 83.6h0M224.5 84.3h0M224.9 80.9h0M225.3 80.0h0M225.7 76.3h0M226.1 84.2h0M226.5 82.1h0M226.9 78.7h0M227.3 80.9h0M227.7 81.3h0M228.1 78.4h0M228.5 81.3h0M228.9 81.1h0M229.3 82.5h0M229.7 78.3h0M230.1 77.4h0M230.5 80.4h0M230.9 78.4h0M231.3 76.6h0M231.7 78.7h0M232.1 81.2h0M232.5 80.3h0M232.9 81.2h0M233.3 85.6h0M233.7 83.4h0M234.1 82.5h0M234.5 80.5h0M234.9 81.4h0M235.3 75.9h0M235.7 71.9h0M236.1 72.0h0M236.5 81.3h0M236.9 72.6h0M237.3 81.2h0M237.7 76.9h0M238.1 76.8h0M238.5 79.2h0M238.9 81.9h0M239.3 85.5h0M239.7 82.4h0M240.1 86.5h0M240.5 89.4h0M240.9 80.3h0M241.3 84.1h0M241.7 81.2h0M242.1 84.8h0M242.5 80.5h0M242.9 77.9h0M243.3 78.8h0M243.7 80.5h0M244.1 81.1h0M244.5 79.6h0M244.9 83.1h0M245.3 82.3h0M245.7 79.7h0M246.1 82.6h0M246.5 82.3h0M246.9 82.5h0M247.3 79.7h0M247.7 81.5h0M248.1 83.9h0M248.5 81.4h0M248.9 86.2h0M249.3 85.2h0M249.7 83.0h0M250.1 86.7h0M250.5 85.3h0M250.9 89.4h0M251.3 86.4h0M251.7 82.4h0M252.1 86.2h0M252.5 86.3h0M252.9 87.3h0M253.3 88.1h0M253.7 85.8h0M254.1 82.0h0M254.5 80.3h0M254.9 82.8h0M255.3 84.3h0M255.7 82.7h0M256.1 84.7h0M256.5 84.1h0M256.9 83.4h0M257.3 81.6h0M257.7 83.3h0M258.1 86.3h0M258.5 84.5h0M258.9 85.9h0M259.3 82.2h0M259.7 84.0h0M260.1 83.7h0M260.5 84.8h0M260.9 82.6h0M261.3 83.9h0M261.7 87.5h0M262.1 87.5h0M262.5 86.9h0M262.9 83.0h0M263.3 81.6h0M263.7 81.5h0M264.1 81.3h0M264.5 78.2h0M264.9 84.2h0M265.3 80.1h0M265.7 83.1h0M266.1 87.0h0M266.5 78.0h0M266.9 80.6h0M267.3 85.8h0M267.7 83.5h0M268.1 84.7h0M268.5 85.8h0M268.9 88.2h0M269.3 86.0h0M269.7 83.7h0M270.1 83.7h0M270.5 82.3h0M270.9 83.8h0M271.3 78.2h0M271.7 83.8h0M272.1 81.3h0M272.5 86.7h0M272.9 86.7h0M273.3 80.0h0M273.7 85.4h0M274.1 85.0h0M274.5 85.6h0M274.9 88.8h0M275.3 87.3h0M275.7 88.0h0M276.1 89.7h0M276.5 87.4h0M276.9 86.2h0M277.3 89.0h0M277.7 90.9h0M278.1 87.8h0M278.5 88.4h0M278.9 86.1h0M279.3 81.6h0M279.7 84.8h0M280.1 87.9h0M280.5 85.0h0M280.9 87.5h0M281.3 86.4h0M281.7 85.6h0M282.1 83.9h0M282.5 84.2h0M282.9 80.0h0M283.3 84.2h0M283.7 82.2h0M284.1 84.9h0M284.5 80.0h0M284.9 81.7h0M285.3 78.7h0M285.7 81.2h0M286.1 77.6h0M286.5 81.4h0M286.9 79.6h0M287.3 75.0h0M287.7 84.7h0M288.1 79.6h0M288.5 77.8h0M288.9 82.3h0M289.3 82.4h0M289.7 80.6h0M290.1 84.8h0M290.5 82.6h0M290.9 85.5h0M291.3 87.6h0M291.7 87.4h0M292.1 86.2h0M292.5 86.0h0M292.9 85.2h0M293.3 88.9h0M293.7 82.4h0M294.1 82.5h0M294.5 83.5h0M294.9 85.6h0M295.3 85.2h0M295.7 83.2h0M296.1 82.6h0M296.5 86.4h0M296.9 80.1h0M297.3 74.0h0M297.7 80.2h0M298.1 73.4h0M298.5 75.0h0M298.9 73.7h0M299.3 70.0h0M299.7 74.2h0M300.1 71.7h0M300.5 69.5h0" stroke="#2c6db9" stroke-width="2.6" stroke-linecap="round"/>
<rect x="176.5" y="23.7" width="127.2" height="115.2" fill="none" stroke="#474747" stroke-width="1"/>
<path d="M176.5 131.7h3.6M176.5 124.5h3.6M176.5 117.3h7.2M176.5 110.1h3.6M176.5 102.9h3.6M176.5 95.7h3.6M176.5 88.5h3.6M176.5 81.3h7.2M176.5 74.1h3.6M176.5 66.9h3.6M176.5 59.7h3.6M176.5 52.5h3.6M176.5 45.3h7.2M176.5 38.1h3.6M176.5 30.9h3.6M180.5 138.9v-3.5M200.5 138.9v-7.0M220.5 138.9v-3.5M240.5 138.9v-7.0M260.5 138.9v-3.5M280.5 138.9v-7.0M300.5 138.9v-3.5" stroke="#474747" stroke-width="1" fill="none"/>
<text x="240.1" y="15.5" text-anchor="middle" font-size="11.3"><tspan font-style="italic">P</tspan><tspan font-size="8.5" dy="3.7">in</tspan><tspan dy="-3.7"> = 0.4 mW</tspan></text>
</g>
<g>
<clipPath id="c2"><rect x="37.4" y="162.6" width="127.2" height="115.2"/></clipPath>
<polyline clip-path="url(#c2)" points="39.4,229.7 39.8,223.9 40.2,224.4 40.6,221.2 41.0,226.7 41.4,219.3 41.8,224.4 42.2,221.2 42.6,227.4 43.0,222.3 43.4,222.2 43.8,219.9 44.2,220.2 44.6,222.1 45.0,218.9 45.4,219.5 45.8,220.2 46.2,218.3 46.6,219.1 47.0,222.9 47.4,225.7 47.8,226.1 48.2,219.5 48.6,221.8 49.0,223.6 49.4,223.4 49.8,222.7 50.2,223.1 50.6,223.2 51.0,224.1 51.4,218.0 51.8,222.8 52.2,224.1 52.6,223.7 53.0,222.5 53.4,221.6 53.8,221.7 54.2,223.0 54.6,220.7 55.0,222.1 55.4,225.1 55.8,221.3 56.2,220.9 56.6,217.5 57.0,225.0 57.4,225.6 57.8,223.0 58.2,225.4 58.6,228.5 59.0,229.0 59.4,228.5 59.8,226.8 60.2,227.3 60.6,226.7 61.0,226.8 61.4,226.9 61.8,228.0 62.2,228.6 62.6,227.2 63.0,225.4 63.4,226.5 63.8,225.6 64.2,226.9 64.6,228.1 65.0,226.5 65.4,222.9 65.8,223.1 66.2,220.5 66.6,223.2 67.0,222.4 67.4,221.3 67.8,222.2 68.2,225.5 68.6,226.9 69.0,228.4 69.4,230.2 69.8,226.8 70.2,225.9 70.6,229.8 71.0,224.7 71.4,228.1 71.8,226.5 72.2,226.6 72.6,228.5 73.0,227.4 73.4,228.6 73.8,226.9 74.2,229.7 74.6,229.8 75.0,231.4 75.4,232.5 75.8,229.5 76.2,229.9 76.6,225.9 77.0,226.7 77.4,223.6 77.8,225.2 78.2,226.3 78.6,227.7 79.0,227.3 79.4,227.0 79.8,225.7 80.2,228.0 80.6,226.4 81.0,222.2 81.4,228.6 81.8,229.1 82.2,230.0 82.6,233.4 83.0,229.6 83.4,231.1 83.8,231.0 84.2,227.1 84.6,226.5 85.0,231.9 85.4,228.0 85.8,229.2 86.2,228.8 86.6,228.2 87.0,228.6 87.4,225.3 87.8,228.3 88.2,227.9 88.6,225.9 89.0,228.5 89.4,229.2 89.8,229.0 90.2,225.7 90.6,228.2 91.0,230.0 91.4,232.8 91.8,230.1 92.2,230.9 92.6,228.8 93.0,229.5 93.4,233.1 93.8,228.3 94.2,225.8 94.6,227.6 95.0,229.5 95.4,225.3 95.8,227.7 96.2,231.1 96.6,234.8 97.0,235.7 97.4,235.7 97.8,239.5 98.2,245.8 98.6,252.7 99.0,254.2 99.4,256.9 99.8,251.8 100.2,251.8 100.6,247.2 101.0,244.4 101.4,244.6 101.8,244.6 102.2,247.2 102.6,247.3 103.0,244.9 103.4,240.2 103.8,240.4 104.2,242.5 104.6,239.5 105.0,242.2 105.4,238.6 105.8,240.3 106.2,242.3 106.6,239.3 107.0,241.8 107.4,241.2 107.8,241.4 108.2,238.5 108.6,238.7 109.0,238.6 109.4,239.3 109.8,236.2 110.2,239.3 110.6,240.2 111.0,236.2 111.4,237.2 111.8,239.3 112.2,241.3 112.6,238.7 113.0,236.8 113.4,237.0 113.8,233.5 114.2,236.8 114.6,232.0 115.0,235.3 115.4,231.2 115.8,230.3 116.2,227.1 116.6,230.2 117.0,230.6 117.4,229.1 117.8,226.8 118.2,226.8 118.6,224.8 119.0,225.5 119.4,226.7 119.8,228.9 120.2,227.7 120.6,230.0 121.0,227.0 121.4,229.6 121.8,228.4 122.2,231.3 122.6,234.0 123.0,231.5 123.4,231.8 123.8,229.2 124.2,229.8 124.6,230.8 125.0,230.7 125.4,227.5 125.8,233.2 126.2,232.7 126.6,230.5 127.0,231.2 127.4,231.2 127.8,228.3 128.2,224.7 128.6,229.3 129.0,225.2 129.4,226.5 129.8,227.0 130.2,226.6 130.6,226.4 131.0,225.4 131.4,228.5 131.8,229.4 132.2,227.8 132.6,226.9 133.0,227.8 133.4,226.0 133.8,227.3 134.2,227.6 134.6,226.6 135.0,228.1 135.4,227.2 135.8,227.6 136.2,224.5 136.6,228.2 137.0,227.8 137.4,226.3 137.8,226.4 138.2,231.3 138.6,226.4 139.0,230.1 139.4,228.2 139.8,225.7 140.2,227.7 140.6,229.6 141.0,223.4 141.4,229.0 141.8,225.3 142.2,223.8 142.6,228.6 143.0,225.6 143.4,222.9 143.8,221.0 144.2,225.1 144.6,224.9 145.0,222.6 145.4,223.1 145.8,226.9 146.2,224.6 146.6,223.4 147.0,222.3 147.4,219.6 147.8,220.1 148.2,220.9 148.6,220.2 149.0,223.1 149.4,222.3 149.8,222.9 150.2,226.6 150.6,225.7 151.0,226.9 151.4,220.4 151.8,218.3 152.2,222.4 152.6,220.1 153.0,220.1 153.4,217.6 153.8,220.4 154.2,221.9 154.6,222.7 155.0,222.6 155.4,225.2 155.8,220.8 156.2,222.7 156.6,219.1 157.0,221.4 157.4,220.6 157.8,221.9 158.2,219.5 158.6,224.3 159.0,222.7 159.4,223.8 159.8,223.2 160.2,222.4 160.6,220.9 161.0,226.3 161.4,220.5" fill="none" stroke="#e0533a" stroke-width="0.7"/>
<path clip-path="url(#c2)" d="M39.4 229.7h0M39.8 223.9h0M40.2 224.4h0M40.6 221.2h0M41.0 226.7h0M41.4 219.3h0M41.8 224.4h0M42.2 221.2h0M42.6 227.4h0M43.0 222.3h0M43.4 222.2h0M43.8 219.9h0M44.2 220.2h0M44.6 222.1h0M45.0 218.9h0M45.4 219.5h0M45.8 220.2h0M46.2 218.3h0M46.6 219.1h0M47.0 222.9h0M47.4 225.7h0M47.8 226.1h0M48.2 219.5h0M48.6 221.8h0M49.0 223.6h0M49.4 223.4h0M49.8 222.7h0M50.2 223.1h0M50.6 223.2h0M51.0 224.1h0M51.4 218.0h0M51.8 222.8h0M52.2 224.1h0M52.6 223.7h0M53.0 222.5h0M53.4 221.6h0M53.8 221.7h0M54.2 223.0h0M54.6 220.7h0M55.0 222.1h0M55.4 225.1h0M55.8 221.3h0M56.2 220.9h0M56.6 217.5h0M57.0 225.0h0M57.4 225.6h0M57.8 223.0h0M58.2 225.4h0M58.6 228.5h0M59.0 229.0h0M59.4 228.5h0M59.8 226.8h0M60.2 227.3h0M60.6 226.7h0M61.0 226.8h0M61.4 226.9h0M61.8 228.0h0M62.2 228.6h0M62.6 227.2h0M63.0 225.4h0M63.4 226.5h0M63.8 225.6h0M64.2 226.9h0M64.6 228.1h0M65.0 226.5h0M65.4 222.9h0M65.8 223.1h0M66.2 220.5h0M66.6 223.2h0M67.0 222.4h0M67.4 221.3h0M67.8 222.2h0M68.2 225.5h0M68.6 226.9h0M69.0 228.4h0M69.4 230.2h0M69.8 226.8h0M70.2 225.9h0M70.6 229.8h0M71.0 224.7h0M71.4 228.1h0M71.8 226.5h0M72.2 226.6h0M72.6 228.5h0M73.0 227.4h0M73.4 228.6h0M73.8 226.9h0M74.2 229.7h0M74.6 229.8h0M75.0 231.4h0M75.4 232.5h0M75.8 229.5h0M76.2 229.9h0M76.6 225.9h0M77.0 226.7h0M77.4 223.6h0M77.8 225.2h0M78.2 226.3h0M78.6 227.7h0M79.0 227.3h0M79.4 227.0h0M79.8 225.7h0M80.2 228.0h0M80.6 226.4h0M81.0 222.2h0M81.4 228.6h0M81.8 229.1h0M82.2 230.0h0M82.6 233.4h0M83.0 229.6h0M83.4 231.1h0M83.8 231.0h0M84.2 227.1h0M84.6 226.5h0M85.0 231.9h0M85.4 228.0h0M85.8 229.2h0M86.2 228.8h0M86.6 228.2h0M87.0 228.6h0M87.4 225.3h0M87.8 228.3h0M88.2 227.9h0M88.6 225.9h0M89.0 228.5h0M89.4 229.2h0M89.8 229.0h0M90.2 225.7h0M90.6 228.2h0M91.0 230.0h0M91.4 232.8h0M91.8 230.1h0M92.2 230.9h0M92.6 228.8h0M93.0 229.5h0M93.4 233.1h0M93.8 228.3h0M94.2 225.8h0M94.6 227.6h0M95.0 229.5h0M95.4 225.3h0M95.8 227.7h0M96.2 231.1h0M96.6 234.8h0M97.0 235.7h0M97.4 235.7h0M97.8 239.5h0M98.2 245.8h0M98.6 252.7h0M99.0 254.2h0M99.4 256.9h0M99.8 251.8h0M100.2 251.8h0M100.6 247.2h0M101.0 244.4h0M101.4 244.6h0M101.8 244.6h0M102.2 247.2h0M102.6 247.3h0M103.0 244.9h0M103.4 240.2h0M103.8 240.4h0M104.2 242.5h0M104.6 239.5h0M105.0 242.2h0M105.4 238.6h0M105.8 240.3h0M106.2 242.3h0M106.6 239.3h0M107.0 241.8h0M107.4 241.2h0M107.8 241.4h0M108.2 238.5h0M108.6 238.7h0M109.0 238.6h0M109.4 239.3h0M109.8 236.2h0M110.2 239.3h0M110.6 240.2h0M111.0 236.2h0M111.4 237.2h0M111.8 239.3h0M112.2 241.3h0M112.6 238.7h0M113.0 236.8h0M113.4 237.0h0M113.8 233.5h0M114.2 236.8h0M114.6 232.0h0M115.0 235.3h0M115.4 231.2h0M115.8 230.3h0M116.2 227.1h0M116.6 230.2h0M117.0 230.6h0M117.4 229.1h0M117.8 226.8h0M118.2 226.8h0M118.6 224.8h0M119.0 225.5h0M119.4 226.7h0M119.8 228.9h0M120.2 227.7h0M120.6 230.0h0M121.0 227.0h0M121.4 229.6h0M121.8 228.4h0M122.2 231.3h0M122.6 234.0h0M123.0 231.5h0M123.4 231.8h0M123.8 229.2h0M124.2 229.8h0M124.6 230.8h0M125.0 230.7h0M125.4 227.5h0M125.8 233.2h0M126.2 232.7h0M126.6 230.5h0M127.0 231.2h0M127.4 231.2h0M127.8 228.3h0M128.2 224.7h0M128.6 229.3h0M129.0 225.2h0M129.4 226.5h0M129.8 227.0h0M130.2 226.6h0M130.6 226.4h0M131.0 225.4h0M131.4 228.5h0M131.8 229.4h0M132.2 227.8h0M132.6 226.9h0M133.0 227.8h0M133.4 226.0h0M133.8 227.3h0M134.2 227.6h0M134.6 226.6h0M135.0 228.1h0M135.4 227.2h0M135.8 227.6h0M136.2 224.5h0M136.6 228.2h0M137.0 227.8h0M137.4 226.3h0M137.8 226.4h0M138.2 231.3h0M138.6 226.4h0M139.0 230.1h0M139.4 228.2h0M139.8 225.7h0M140.2 227.7h0M140.6 229.6h0M141.0 223.4h0M141.4 229.0h0M141.8 225.3h0M142.2 223.8h0M142.6 228.6h0M143.0 225.6h0M143.4 222.9h0M143.8 221.0h0M144.2 225.1h0M144.6 224.9h0M145.0 222.6h0M145.4 223.1h0M145.8 226.9h0M146.2 224.6h0M146.6 223.4h0M147.0 222.3h0M147.4 219.6h0M147.8 220.1h0M148.2 220.9h0M148.6 220.2h0M149.0 223.1h0M149.4 222.3h0M149.8 222.9h0M150.2 226.6h0M150.6 225.7h0M151.0 226.9h0M151.4 220.4h0M151.8 218.3h0M152.2 222.4h0M152.6 220.1h0M153.0 220.1h0M153.4 217.6h0M153.8 220.4h0M154.2 221.9h0M154.6 222.7h0M155.0 222.6h0M155.4 225.2h0M155.8 220.8h0M156.2 222.7h0M156.6 219.1h0M157.0 221.4h0M157.4 220.6h0M157.8 221.9h0M158.2 219.5h0M158.6 224.3h0M159.0 222.7h0M159.4 223.8h0M159.8 223.2h0M160.2 222.4h0M160.6 220.9h0M161.0 226.3h0M161.4 220.5h0" stroke="#e0533a" stroke-width="2.6" stroke-linecap="round"/>
<polyline clip-path="url(#c2)" points="39.4,219.1 39.8,223.1 40.2,220.5 40.6,220.6 41.0,219.7 41.4,220.1 41.8,215.7 42.2,218.7 42.6,218.8 43.0,219.6 43.4,218.7 43.8,221.8 44.2,218.6 44.6,221.1 45.0,221.3 45.4,221.1 45.8,219.6 46.2,217.2 46.6,217.4 47.0,219.1 47.4,217.3 47.8,218.6 48.2,217.5 48.6,219.9 49.0,223.3 49.4,217.3 49.8,221.0 50.2,224.6 50.6,223.0 51.0,223.9 51.4,218.6 51.8,222.4 52.2,225.8 52.6,220.3 53.0,221.7 53.4,216.9 53.8,222.5 54.2,223.4 54.6,218.7 55.0,219.4 55.4,220.1 55.8,222.7 56.2,218.8 56.6,216.5 57.0,224.7 57.4,218.9 57.8,221.7 58.2,216.1 58.6,219.9 59.0,220.6 59.4,217.7 59.8,218.3 60.2,220.0 60.6,217.6 61.0,218.6 61.4,219.8 61.8,212.1 62.2,217.7 62.6,219.1 63.0,217.9 63.4,220.4 63.8,220.8 64.2,219.2 64.6,219.8 65.0,218.0 65.4,215.8 65.8,218.5 66.2,217.4 66.6,217.5 67.0,221.2 67.4,218.3 67.8,220.0 68.2,216.5 68.6,217.2 69.0,218.0 69.4,220.3 69.8,216.7 70.2,218.0 70.6,215.6 71.0,216.3 71.4,219.2 71.8,216.6 72.2,218.3 72.6,220.8 73.0,219.4 73.4,221.6 73.8,222.4 74.2,221.6 74.6,222.9 75.0,220.9 75.4,220.8 75.8,215.6 76.2,215.9 76.6,218.1 77.0,214.5 77.4,217.0 77.8,216.3 78.2,216.0 78.6,218.2 79.0,214.6 79.4,218.9 79.8,221.0 80.2,217.2 80.6,220.8 81.0,219.9 81.4,225.7 81.8,218.8 82.2,218.4 82.6,220.2 83.0,220.0 83.4,218.0 83.8,222.5 84.2,218.2 84.6,222.4 85.0,221.8 85.4,217.2 85.8,217.9 86.2,221.9 86.6,218.1 87.0,221.5 87.4,221.0 87.8,220.6 88.2,223.6 88.6,226.0 89.0,226.1 89.4,221.7 89.8,226.4 90.2,224.0 90.6,221.3 91.0,220.3 91.4,224.5 91.8,221.7 92.2,220.6 92.6,219.4 93.0,220.7 93.4,222.2 93.8,217.4 94.2,216.3 94.6,216.5 95.0,217.3 95.4,214.1 95.8,214.5 96.2,210.7 96.6,213.4 97.0,207.8 97.4,206.0 97.8,204.1 98.2,199.0 98.6,196.5 99.0,197.3 99.4,195.2 99.8,199.0 100.2,196.4 100.6,197.3 101.0,199.8 101.4,199.7 101.8,203.6 102.2,204.9 102.6,202.6 103.0,203.1 103.4,201.6 103.8,204.7 104.2,207.9 104.6,207.4 105.0,210.7 105.4,213.1 105.8,207.4 106.2,212.3 106.6,211.7 107.0,212.4 107.4,209.7 107.8,214.5 108.2,212.7 108.6,217.7 109.0,218.2 109.4,213.9 109.8,214.2 110.2,215.3 110.6,215.1 111.0,215.5 111.4,216.7 111.8,213.6 112.2,215.4 112.6,215.7 113.0,218.5 113.4,218.1 113.8,220.3 114.2,220.5 114.6,224.7 115.0,224.1 115.4,223.2 115.8,226.9 116.2,227.4 116.6,227.4 117.0,228.4 117.4,229.4 117.8,233.8 118.2,230.6 118.6,235.6 119.0,234.9 119.4,231.6 119.8,233.5 120.2,231.1 120.6,225.4 121.0,229.6 121.4,228.9 121.8,232.4 122.2,232.6 122.6,233.5 123.0,232.8 123.4,234.3 123.8,233.1 124.2,232.4 124.6,232.1 125.0,232.7 125.4,233.3 125.8,229.8 126.2,229.9 126.6,227.1 127.0,227.4 127.4,230.4 127.8,228.4 128.2,231.9 128.6,225.7 129.0,228.0 129.4,230.4 129.8,231.1 130.2,228.9 130.6,231.9 131.0,229.2 131.4,225.6 131.8,227.5 132.2,229.8 132.6,227.1 133.0,231.5 133.4,229.8 133.8,231.2 134.2,232.7 134.6,229.7 135.0,230.6 135.4,227.3 135.8,230.4 136.2,224.3 136.6,229.7 137.0,226.4 137.4,228.9 137.8,228.9 138.2,225.4 138.6,224.9 139.0,229.8 139.4,225.1 139.8,228.5 140.2,226.8 140.6,227.7 141.0,226.6 141.4,231.3 141.8,225.5 142.2,228.0 142.6,230.1 143.0,232.3 143.4,232.5 143.8,232.2 144.2,229.3 144.6,230.0 145.0,231.9 145.4,230.6 145.8,226.3 146.2,230.6 146.6,231.0 147.0,227.2 147.4,229.6 147.8,228.9 148.2,231.8 148.6,233.6 149.0,232.9 149.4,232.5 149.8,232.6 150.2,230.5 150.6,231.7 151.0,229.9 151.4,229.8 151.8,232.3 152.2,233.2 152.6,228.8 153.0,229.9 153.4,228.5 153.8,228.7 154.2,230.3 154.6,229.0 155.0,226.7 155.4,226.9 155.8,229.1 156.2,226.7 156.6,228.2 157.0,229.6 157.4,228.7 157.8,225.8 158.2,229.4 158.6,224.9 159.0,224.5 159.4,222.5 159.8,226.3 160.2,218.6 160.6,221.1 161.0,221.5 161.4,222.1" fill="none" stroke="#2c6db9" stroke-width="0.7"/>
<path clip-path="url(#c2)" d="M39.4 219.1h0M39.8 223.1h0M40.2 220.5h0M40.6 220.6h0M41.0 219.7h0M41.4 220.1h0M41.8 215.7h0M42.2 218.7h0M42.6 218.8h0M43.0 219.6h0M43.4 218.7h0M43.8 221.8h0M44.2 218.6h0M44.6 221.1h0M45.0 221.3h0M45.4 221.1h0M45.8 219.6h0M46.2 217.2h0M46.6 217.4h0M47.0 219.1h0M47.4 217.3h0M47.8 218.6h0M48.2 217.5h0M48.6 219.9h0M49.0 223.3h0M49.4 217.3h0M49.8 221.0h0M50.2 224.6h0M50.6 223.0h0M51.0 223.9h0M51.4 218.6h0M51.8 222.4h0M52.2 225.8h0M52.6 220.3h0M53.0 221.7h0M53.4 216.9h0M53.8 222.5h0M54.2 223.4h0M54.6 218.7h0M55.0 219.4h0M55.4 220.1h0M55.8 222.7h0M56.2 218.8h0M56.6 216.5h0M57.0 224.7h0M57.4 218.9h0M57.8 221.7h0M58.2 216.1h0M58.6 219.9h0M59.0 220.6h0M59.4 217.7h0M59.8 218.3h0M60.2 220.0h0M60.6 217.6h0M61.0 218.6h0M61.4 219.8h0M61.8 212.1h0M62.2 217.7h0M62.6 219.1h0M63.0 217.9h0M63.4 220.4h0M63.8 220.8h0M64.2 219.2h0M64.6 219.8h0M65.0 218.0h0M65.4 215.8h0M65.8 218.5h0M66.2 217.4h0M66.6 217.5h0M67.0 221.2h0M67.4 218.3h0M67.8 220.0h0M68.2 216.5h0M68.6 217.2h0M69.0 218.0h0M69.4 220.3h0M69.8 216.7h0M70.2 218.0h0M70.6 215.6h0M71.0 216.3h0M71.4 219.2h0M71.8 216.6h0M72.2 218.3h0M72.6 220.8h0M73.0 219.4h0M73.4 221.6h0M73.8 222.4h0M74.2 221.6h0M74.6 222.9h0M75.0 220.9h0M75.4 220.8h0M75.8 215.6h0M76.2 215.9h0M76.6 218.1h0M77.0 214.5h0M77.4 217.0h0M77.8 216.3h0M78.2 216.0h0M78.6 218.2h0M79.0 214.6h0M79.4 218.9h0M79.8 221.0h0M80.2 217.2h0M80.6 220.8h0M81.0 219.9h0M81.4 225.7h0M81.8 218.8h0M82.2 218.4h0M82.6 220.2h0M83.0 220.0h0M83.4 218.0h0M83.8 222.5h0M84.2 218.2h0M84.6 222.4h0M85.0 221.8h0M85.4 217.2h0M85.8 217.9h0M86.2 221.9h0M86.6 218.1h0M87.0 221.5h0M87.4 221.0h0M87.8 220.6h0M88.2 223.6h0M88.6 226.0h0M89.0 226.1h0M89.4 221.7h0M89.8 226.4h0M90.2 224.0h0M90.6 221.3h0M91.0 220.3h0M91.4 224.5h0M91.8 221.7h0M92.2 220.6h0M92.6 219.4h0M93.0 220.7h0M93.4 222.2h0M93.8 217.4h0M94.2 216.3h0M94.6 216.5h0M95.0 217.3h0M95.4 214.1h0M95.8 214.5h0M96.2 210.7h0M96.6 213.4h0M97.0 207.8h0M97.4 206.0h0M97.8 204.1h0M98.2 199.0h0M98.6 196.5h0M99.0 197.3h0M99.4 195.2h0M99.8 199.0h0M100.2 196.4h0M100.6 197.3h0M101.0 199.8h0M101.4 199.7h0M101.8 203.6h0M102.2 204.9h0M102.6 202.6h0M103.0 203.1h0M103.4 201.6h0M103.8 204.7h0M104.2 207.9h0M104.6 207.4h0M105.0 210.7h0M105.4 213.1h0M105.8 207.4h0M106.2 212.3h0M106.6 211.7h0M107.0 212.4h0M107.4 209.7h0M107.8 214.5h0M108.2 212.7h0M108.6 217.7h0M109.0 218.2h0M109.4 213.9h0M109.8 214.2h0M110.2 215.3h0M110.6 215.1h0M111.0 215.5h0M111.4 216.7h0M111.8 213.6h0M112.2 215.4h0M112.6 215.7h0M113.0 218.5h0M113.4 218.1h0M113.8 220.3h0M114.2 220.5h0M114.6 224.7h0M115.0 224.1h0M115.4 223.2h0M115.8 226.9h0M116.2 227.4h0M116.6 227.4h0M117.0 228.4h0M117.4 229.4h0M117.8 233.8h0M118.2 230.6h0M118.6 235.6h0M119.0 234.9h0M119.4 231.6h0M119.8 233.5h0M120.2 231.1h0M120.6 225.4h0M121.0 229.6h0M121.4 228.9h0M121.8 232.4h0M122.2 232.6h0M122.6 233.5h0M123.0 232.8h0M123.4 234.3h0M123.8 233.1h0M124.2 232.4h0M124.6 232.1h0M125.0 232.7h0M125.4 233.3h0M125.8 229.8h0M126.2 229.9h0M126.6 227.1h0M127.0 227.4h0M127.4 230.4h0M127.8 228.4h0M128.2 231.9h0M128.6 225.7h0M129.0 228.0h0M129.4 230.4h0M129.8 231.1h0M130.2 228.9h0M130.6 231.9h0M131.0 229.2h0M131.4 225.6h0M131.8 227.5h0M132.2 229.8h0M132.6 227.1h0M133.0 231.5h0M133.4 229.8h0M133.8 231.2h0M134.2 232.7h0M134.6 229.7h0M135.0 230.6h0M135.4 227.3h0M135.8 230.4h0M136.2 224.3h0M136.6 229.7h0M137.0 226.4h0M137.4 228.9h0M137.8 228.9h0M138.2 225.4h0M138.6 224.9h0M139.0 229.8h0M139.4 225.1h0M139.8 228.5h0M140.2 226.8h0M140.6 227.7h0M141.0 226.6h0M141.4 231.3h0M141.8 225.5h0M142.2 228.0h0M142.6 230.1h0M143.0 232.3h0M143.4 232.5h0M143.8 232.2h0M144.2 229.3h0M144.6 230.0h0M145.0 231.9h0M145.4 230.6h0M145.8 226.3h0M146.2 230.6h0M146.6 231.0h0M147.0 227.2h0M147.4 229.6h0M147.8 228.9h0M148.2 231.8h0M148.6 233.6h0M149.0 232.9h0M149.4 232.5h0M149.8 232.6h0M150.2 230.5h0M150.6 231.7h0M151.0 229.9h0M151.4 229.8h0M151.8 232.3h0M152.2 233.2h0M152.6 228.8h0M153.0 229.9h0M153.4 228.5h0M153.8 228.7h0M154.2 230.3h0M154.6 229.0h0M155.0 226.7h0M155.4 226.9h0M155.8 229.1h0M156.2 226.7h0M156.6 228.2h0M157.0 229.6h0M157.4 228.7h0M157.8 225.8h0M158.2 229.4h0M158.6 224.9h0M159.0 224.5h0M159.4 222.5h0M159.8 226.3h0M160.2 218.6h0M160.6 221.1h0M161.0 221.5h0M161.4 222.1h0" stroke="#2c6db9" stroke-width="2.6" stroke-linecap="round"/>
<rect x="37.4" y="162.6" width="127.2" height="115.2" fill="none" stroke="#474747" stroke-width="1"/>
<path d="M37.4 270.6h3.6M37.4 263.4h3.6M37.4 256.2h7.2M37.4 249.0h3.6M37.4 241.8h3.6M37.4 234.6h3.6M37.4 227.4h3.6M37.4 220.2h7.2M37.4 213.0h3.6M37.4 205.8h3.6M37.4 198.6h3.6M37.4 191.4h3.6M37.4 184.2h7.2M37.4 177.0h3.6M37.4 169.8h3.6M41.4 277.8v-3.5M61.4 277.8v-7.0M81.4 277.8v-3.5M101.4 277.8v-7.0M121.4 277.8v-3.5M141.4 277.8v-7.0M161.4 277.8v-3.5" stroke="#474747" stroke-width="1" fill="none"/>
<text x="101.0" y="154.2" text-anchor="middle" font-size="11.3"><tspan font-style="italic">P</tspan><tspan font-size="8.5" dy="3.7">in</tspan><tspan dy="-3.7"> = 1 mW</tspan></text>
<text x="32.5" y="188.5" text-anchor="end" font-size="11.5">5</text>
<text x="32.5" y="224.5" text-anchor="end" font-size="11.5">0</text>
<text x="32.5" y="260.5" text-anchor="end" font-size="11.5"><tspan dy="-0.9">–</tspan><tspan dy="0.9">5</tspan></text>
<text x="61.4" y="291.6" text-anchor="middle" font-size="11.5">500</text>
<text x="101.4" y="291.6" text-anchor="middle" font-size="11.5">600</text>
<text x="141.4" y="291.6" text-anchor="middle" font-size="11.5">700</text>
</g>
<g>
<clipPath id="c3"><rect x="176.5" y="162.6" width="127.2" height="115.2"/></clipPath>
<polyline clip-path="url(#c3)" points="178.5,219.3 178.9,220.2 179.3,220.0 179.7,221.9 180.1,220.5 180.5,219.9 180.9,218.5 181.3,217.3 181.7,218.4 182.1,221.9 182.5,219.3 182.9,220.5 183.3,219.5 183.7,217.2 184.1,217.2 184.5,219.4 184.9,217.8 185.3,220.2 185.7,220.5 186.1,218.6 186.5,217.5 186.9,213.2 187.3,218.9 187.7,213.0 188.1,213.8 188.5,217.6 188.9,219.5 189.3,221.6 189.7,219.7 190.1,217.3 190.5,219.4 190.9,216.9 191.3,216.9 191.7,219.4 192.1,218.5 192.5,219.7 192.9,219.4 193.3,221.5 193.7,218.7 194.1,218.1 194.5,220.1 194.9,214.9 195.3,220.0 195.7,219.2 196.1,217.6 196.5,221.4 196.9,218.7 197.3,218.1 197.7,218.0 198.1,217.6 198.5,217.4 198.9,215.0 199.3,215.8 199.7,215.6 200.1,217.8 200.5,217.5 200.9,214.1 201.3,217.2 201.7,218.4 202.1,213.4 202.5,214.8 202.9,216.3 203.3,216.6 203.7,217.4 204.1,221.8 204.5,220.1 204.9,223.4 205.3,221.9 205.7,223.3 206.1,219.5 206.5,219.7 206.9,221.8 207.3,220.3 207.7,221.2 208.1,219.8 208.5,219.4 208.9,219.8 209.3,223.9 209.7,220.3 210.1,218.3 210.5,219.9 210.9,217.5 211.3,220.4 211.7,218.0 212.1,221.0 212.5,220.8 212.9,221.0 213.3,219.3 213.7,221.0 214.1,220.7 214.5,223.3 214.9,223.7 215.3,219.0 215.7,220.1 216.1,223.5 216.5,223.7 216.9,222.2 217.3,218.6 217.7,218.6 218.1,220.1 218.5,224.5 218.9,220.9 219.3,218.9 219.7,218.6 220.1,218.5 220.5,220.1 220.9,215.2 221.3,214.8 221.7,218.5 222.1,219.9 222.5,214.2 222.9,220.0 223.3,217.5 223.7,216.4 224.1,222.9 224.5,219.8 224.9,220.9 225.3,219.6 225.7,219.0 226.1,215.4 226.5,217.9 226.9,218.5 227.3,217.4 227.7,220.4 228.1,219.6 228.5,214.9 228.9,221.4 229.3,221.9 229.7,221.3 230.1,223.4 230.5,225.2 230.9,219.5 231.3,224.6 231.7,223.2 232.1,222.8 232.5,224.3 232.9,224.9 233.3,223.4 233.7,221.1 234.1,222.8 234.5,227.5 234.9,234.3 235.3,238.6 235.7,246.9 236.1,248.3 236.5,254.8 236.9,257.0 237.3,258.2 237.7,262.3 238.1,265.7 238.5,262.9 238.9,266.7 239.3,266.2 239.7,266.6 240.1,268.5 240.5,266.6 240.9,265.9 241.3,268.1 241.7,267.8 242.1,268.8 242.5,267.0 242.9,271.3 243.3,266.8 243.7,267.4 244.1,267.2 244.5,265.5 244.9,267.1 245.3,264.7 245.7,262.9 246.1,268.5 246.5,262.6 246.9,257.8 247.3,259.7 247.7,256.8 248.1,257.2 248.5,258.5 248.9,256.7 249.3,253.7 249.7,250.9 250.1,251.6 250.5,248.9 250.9,246.7 251.3,249.7 251.7,244.9 252.1,240.8 252.5,239.6 252.9,241.6 253.3,237.2 253.7,239.3 254.1,236.5 254.5,237.5 254.9,226.3 255.3,226.3 255.7,220.3 256.1,222.9 256.5,224.1 256.9,227.2 257.3,220.7 257.7,225.4 258.1,225.3 258.5,228.5 258.9,223.3 259.3,223.0 259.7,226.4 260.1,226.0 260.5,225.4 260.9,224.4 261.3,226.9 261.7,221.9 262.1,224.9 262.5,224.7 262.9,224.0 263.3,227.3 263.7,223.3 264.1,218.9 264.5,220.0 264.9,222.5 265.3,221.0 265.7,225.3 266.1,224.9 266.5,224.7 266.9,225.1 267.3,228.8 267.7,226.0 268.1,223.8 268.5,227.2 268.9,223.3 269.3,225.9 269.7,225.6 270.1,221.1 270.5,222.4 270.9,222.0 271.3,224.2 271.7,223.7 272.1,222.5 272.5,222.3 272.9,225.4 273.3,227.0 273.7,221.9 274.1,222.7 274.5,222.9 274.9,224.0 275.3,219.3 275.7,224.3 276.1,222.3 276.5,227.4 276.9,225.8 277.3,224.9 277.7,223.3 278.1,223.1 278.5,225.1 278.9,222.1 279.3,226.5 279.7,224.7 280.1,224.3 280.5,227.2 280.9,223.4 281.3,222.7 281.7,226.4 282.1,223.4 282.5,227.6 282.9,227.2 283.3,229.5 283.7,230.8 284.1,229.0 284.5,226.7 284.9,226.4 285.3,222.7 285.7,228.6 286.1,226.2 286.5,227.1 286.9,221.5 287.3,226.0 287.7,225.7 288.1,228.0 288.5,224.1 288.9,226.0 289.3,225.5 289.7,229.9 290.1,222.4 290.5,223.8 290.9,223.2 291.3,221.7 291.7,224.7 292.1,225.1 292.5,223.6 292.9,224.6 293.3,226.7 293.7,226.9 294.1,227.3 294.5,225.4 294.9,224.8 295.3,226.3 295.7,222.9 296.1,228.4 296.5,225.3 296.9,223.0 297.3,226.2 297.7,228.7 298.1,222.6 298.5,225.2 298.9,229.0 299.3,224.9 299.7,227.7 300.1,229.2 300.5,226.4" fill="none" stroke="#e0533a" stroke-width="0.7"/>
<path clip-path="url(#c3)" d="M178.5 219.3h0M178.9 220.2h0M179.3 220.0h0M179.7 221.9h0M180.1 220.5h0M180.5 219.9h0M180.9 218.5h0M181.3 217.3h0M181.7 218.4h0M182.1 221.9h0M182.5 219.3h0M182.9 220.5h0M183.3 219.5h0M183.7 217.2h0M184.1 217.2h0M184.5 219.4h0M184.9 217.8h0M185.3 220.2h0M185.7 220.5h0M186.1 218.6h0M186.5 217.5h0M186.9 213.2h0M187.3 218.9h0M187.7 213.0h0M188.1 213.8h0M188.5 217.6h0M188.9 219.5h0M189.3 221.6h0M189.7 219.7h0M190.1 217.3h0M190.5 219.4h0M190.9 216.9h0M191.3 216.9h0M191.7 219.4h0M192.1 218.5h0M192.5 219.7h0M192.9 219.4h0M193.3 221.5h0M193.7 218.7h0M194.1 218.1h0M194.5 220.1h0M194.9 214.9h0M195.3 220.0h0M195.7 219.2h0M196.1 217.6h0M196.5 221.4h0M196.9 218.7h0M197.3 218.1h0M197.7 218.0h0M198.1 217.6h0M198.5 217.4h0M198.9 215.0h0M199.3 215.8h0M199.7 215.6h0M200.1 217.8h0M200.5 217.5h0M200.9 214.1h0M201.3 217.2h0M201.7 218.4h0M202.1 213.4h0M202.5 214.8h0M202.9 216.3h0M203.3 216.6h0M203.7 217.4h0M204.1 221.8h0M204.5 220.1h0M204.9 223.4h0M205.3 221.9h0M205.7 223.3h0M206.1 219.5h0M206.5 219.7h0M206.9 221.8h0M207.3 220.3h0M207.7 221.2h0M208.1 219.8h0M208.5 219.4h0M208.9 219.8h0M209.3 223.9h0M209.7 220.3h0M210.1 218.3h0M210.5 219.9h0M210.9 217.5h0M211.3 220.4h0M211.7 218.0h0M212.1 221.0h0M212.5 220.8h0M212.9 221.0h0M213.3 219.3h0M213.7 221.0h0M214.1 220.7h0M214.5 223.3h0M214.9 223.7h0M215.3 219.0h0M215.7 220.1h0M216.1 223.5h0M216.5 223.7h0M216.9 222.2h0M217.3 218.6h0M217.7 218.6h0M218.1 220.1h0M218.5 224.5h0M218.9 220.9h0M219.3 218.9h0M219.7 218.6h0M220.1 218.5h0M220.5 220.1h0M220.9 215.2h0M221.3 214.8h0M221.7 218.5h0M222.1 219.9h0M222.5 214.2h0M222.9 220.0h0M223.3 217.5h0M223.7 216.4h0M224.1 222.9h0M224.5 219.8h0M224.9 220.9h0M225.3 219.6h0M225.7 219.0h0M226.1 215.4h0M226.5 217.9h0M226.9 218.5h0M227.3 217.4h0M227.7 220.4h0M228.1 219.6h0M228.5 214.9h0M228.9 221.4h0M229.3 221.9h0M229.7 221.3h0M230.1 223.4h0M230.5 225.2h0M230.9 219.5h0M231.3 224.6h0M231.7 223.2h0M232.1 222.8h0M232.5 224.3h0M232.9 224.9h0M233.3 223.4h0M233.7 221.1h0M234.1 222.8h0M234.5 227.5h0M234.9 234.3h0M235.3 238.6h0M235.7 246.9h0M236.1 248.3h0M236.5 254.8h0M236.9 257.0h0M237.3 258.2h0M237.7 262.3h0M238.1 265.7h0M238.5 262.9h0M238.9 266.7h0M239.3 266.2h0M239.7 266.6h0M240.1 268.5h0M240.5 266.6h0M240.9 265.9h0M241.3 268.1h0M241.7 267.8h0M242.1 268.8h0M242.5 267.0h0M242.9 271.3h0M243.3 266.8h0M243.7 267.4h0M244.1 267.2h0M244.5 265.5h0M244.9 267.1h0M245.3 264.7h0M245.7 262.9h0M246.1 268.5h0M246.5 262.6h0M246.9 257.8h0M247.3 259.7h0M247.7 256.8h0M248.1 257.2h0M248.5 258.5h0M248.9 256.7h0M249.3 253.7h0M249.7 250.9h0M250.1 251.6h0M250.5 248.9h0M250.9 246.7h0M251.3 249.7h0M251.7 244.9h0M252.1 240.8h0M252.5 239.6h0M252.9 241.6h0M253.3 237.2h0M253.7 239.3h0M254.1 236.5h0M254.5 237.5h0M254.9 226.3h0M255.3 226.3h0M255.7 220.3h0M256.1 222.9h0M256.5 224.1h0M256.9 227.2h0M257.3 220.7h0M257.7 225.4h0M258.1 225.3h0M258.5 228.5h0M258.9 223.3h0M259.3 223.0h0M259.7 226.4h0M260.1 226.0h0M260.5 225.4h0M260.9 224.4h0M261.3 226.9h0M261.7 221.9h0M262.1 224.9h0M262.5 224.7h0M262.9 224.0h0M263.3 227.3h0M263.7 223.3h0M264.1 218.9h0M264.5 220.0h0M264.9 222.5h0M265.3 221.0h0M265.7 225.3h0M266.1 224.9h0M266.5 224.7h0M266.9 225.1h0M267.3 228.8h0M267.7 226.0h0M268.1 223.8h0M268.5 227.2h0M268.9 223.3h0M269.3 225.9h0M269.7 225.6h0M270.1 221.1h0M270.5 222.4h0M270.9 222.0h0M271.3 224.2h0M271.7 223.7h0M272.1 222.5h0M272.5 222.3h0M272.9 225.4h0M273.3 227.0h0M273.7 221.9h0M274.1 222.7h0M274.5 222.9h0M274.9 224.0h0M275.3 219.3h0M275.7 224.3h0M276.1 222.3h0M276.5 227.4h0M276.9 225.8h0M277.3 224.9h0M277.7 223.3h0M278.1 223.1h0M278.5 225.1h0M278.9 222.1h0M279.3 226.5h0M279.7 224.7h0M280.1 224.3h0M280.5 227.2h0M280.9 223.4h0M281.3 222.7h0M281.7 226.4h0M282.1 223.4h0M282.5 227.6h0M282.9 227.2h0M283.3 229.5h0M283.7 230.8h0M284.1 229.0h0M284.5 226.7h0M284.9 226.4h0M285.3 222.7h0M285.7 228.6h0M286.1 226.2h0M286.5 227.1h0M286.9 221.5h0M287.3 226.0h0M287.7 225.7h0M288.1 228.0h0M288.5 224.1h0M288.9 226.0h0M289.3 225.5h0M289.7 229.9h0M290.1 222.4h0M290.5 223.8h0M290.9 223.2h0M291.3 221.7h0M291.7 224.7h0M292.1 225.1h0M292.5 223.6h0M292.9 224.6h0M293.3 226.7h0M293.7 226.9h0M294.1 227.3h0M294.5 225.4h0M294.9 224.8h0M295.3 226.3h0M295.7 222.9h0M296.1 228.4h0M296.5 225.3h0M296.9 223.0h0M297.3 226.2h0M297.7 228.7h0M298.1 222.6h0M298.5 225.2h0M298.9 229.0h0M299.3 224.9h0M299.7 227.7h0M300.1 229.2h0M300.5 226.4h0" stroke="#e0533a" stroke-width="2.6" stroke-linecap="round"/>
<polyline clip-path="url(#c3)" points="178.5,212.0 178.9,214.3 179.3,219.8 179.7,221.0 180.1,220.5 180.5,218.7 180.9,218.7 181.3,216.2 181.7,219.3 182.1,220.2 182.5,220.0 182.9,222.2 183.3,222.7 183.7,225.1 184.1,221.7 184.5,225.5 184.9,221.7 185.3,224.5 185.7,219.6 186.1,223.4 186.5,220.4 186.9,225.4 187.3,222.9 187.7,220.2 188.1,224.0 188.5,222.8 188.9,222.7 189.3,226.1 189.7,220.9 190.1,220.8 190.5,224.5 190.9,221.3 191.3,222.5 191.7,223.6 192.1,221.0 192.5,221.8 192.9,216.5 193.3,222.2 193.7,218.3 194.1,219.1 194.5,224.9 194.9,224.3 195.3,220.3 195.7,221.9 196.1,222.0 196.5,219.9 196.9,221.0 197.3,221.6 197.7,225.3 198.1,220.7 198.5,222.9 198.9,220.1 199.3,220.5 199.7,225.0 200.1,219.7 200.5,219.9 200.9,221.0 201.3,224.6 201.7,223.0 202.1,224.5 202.5,224.3 202.9,226.3 203.3,223.6 203.7,223.7 204.1,223.0 204.5,223.1 204.9,218.7 205.3,220.0 205.7,225.2 206.1,222.7 206.5,220.4 206.9,219.0 207.3,222.0 207.7,220.8 208.1,221.4 208.5,218.8 208.9,219.2 209.3,220.6 209.7,221.7 210.1,220.0 210.5,223.8 210.9,225.8 211.3,222.1 211.7,224.4 212.1,220.9 212.5,219.8 212.9,218.3 213.3,217.9 213.7,220.7 214.1,220.4 214.5,223.2 214.9,218.3 215.3,220.9 215.7,218.0 216.1,220.8 216.5,224.8 216.9,217.7 217.3,221.0 217.7,221.0 218.1,221.7 218.5,221.0 218.9,221.7 219.3,224.5 219.7,219.8 220.1,223.1 220.5,222.3 220.9,218.0 221.3,219.2 221.7,221.4 222.1,224.3 222.5,219.6 222.9,217.9 223.3,219.2 223.7,222.0 224.1,221.5 224.5,222.7 224.9,220.5 225.3,220.3 225.7,219.9 226.1,222.9 226.5,221.3 226.9,221.1 227.3,223.2 227.7,221.8 228.1,217.9 228.5,221.2 228.9,221.1 229.3,222.0 229.7,220.5 230.1,223.4 230.5,221.0 230.9,219.3 231.3,217.7 231.7,218.5 232.1,220.1 232.5,221.1 232.9,223.2 233.3,223.4 233.7,221.9 234.1,224.8 234.5,218.6 234.9,218.2 235.3,216.0 235.7,204.4 236.1,194.7 236.5,187.8 236.9,179.7 237.3,179.0 237.7,179.4 238.1,177.6 238.5,176.8 238.9,179.3 239.3,175.6 239.7,176.5 240.1,177.8 240.5,174.9 240.9,178.5 241.3,177.6 241.7,176.4 242.1,174.8 242.5,176.5 242.9,177.4 243.3,178.6 243.7,178.8 244.1,181.1 244.5,180.5 244.9,184.6 245.3,184.4 245.7,184.2 246.1,184.6 246.5,186.2 246.9,183.9 247.3,188.2 247.7,189.5 248.1,189.4 248.5,187.4 248.9,192.6 249.3,190.6 249.7,194.5 250.1,195.1 250.5,197.5 250.9,196.9 251.3,193.1 251.7,198.3 252.1,193.8 252.5,198.7 252.9,198.4 253.3,197.4 253.7,197.6 254.1,199.4 254.5,206.9 254.9,209.5 255.3,216.6 255.7,214.6 256.1,222.4 256.5,224.6 256.9,226.7 257.3,226.1 257.7,226.4 258.1,220.9 258.5,222.1 258.9,219.9 259.3,222.7 259.7,223.9 260.1,220.9 260.5,224.2 260.9,225.6 261.3,220.7 261.7,223.3 262.1,221.6 262.5,216.5 262.9,218.8 263.3,216.3 263.7,219.8 264.1,215.3 264.5,215.6 264.9,220.3 265.3,220.8 265.7,222.1 266.1,221.4 266.5,218.2 266.9,223.0 267.3,218.8 267.7,222.1 268.1,222.7 268.5,225.5 268.9,218.3 269.3,223.2 269.7,222.7 270.1,224.7 270.5,222.7 270.9,228.1 271.3,223.5 271.7,219.0 272.1,222.6 272.5,222.9 272.9,221.8 273.3,224.1 273.7,222.1 274.1,221.1 274.5,222.2 274.9,221.5 275.3,222.7 275.7,220.9 276.1,220.4 276.5,218.3 276.9,218.8 277.3,220.5 277.7,224.5 278.1,217.4 278.5,216.6 278.9,219.6 279.3,219.7 279.7,216.4 280.1,212.0 280.5,215.1 280.9,214.8 281.3,213.6 281.7,212.6 282.1,216.5 282.5,217.9 282.9,219.5 283.3,216.2 283.7,218.2 284.1,221.0 284.5,224.4 284.9,223.3 285.3,221.2 285.7,223.3 286.1,220.1 286.5,221.1 286.9,221.3 287.3,220.8 287.7,220.9 288.1,223.9 288.5,222.7 288.9,218.7 289.3,224.6 289.7,223.5 290.1,220.3 290.5,222.2 290.9,222.5 291.3,222.9 291.7,219.0 292.1,218.6 292.5,218.3 292.9,220.5 293.3,219.6 293.7,223.3 294.1,220.9 294.5,222.5 294.9,221.3 295.3,220.9 295.7,220.6 296.1,224.3 296.5,219.9 296.9,224.0 297.3,225.7 297.7,223.7 298.1,225.6 298.5,223.2 298.9,221.7 299.3,222.5 299.7,220.7 300.1,222.1 300.5,222.6" fill="none" stroke="#2c6db9" stroke-width="0.7"/>
<path clip-path="url(#c3)" d="M178.5 212.0h0M178.9 214.3h0M179.3 219.8h0M179.7 221.0h0M180.1 220.5h0M180.5 218.7h0M180.9 218.7h0M181.3 216.2h0M181.7 219.3h0M182.1 220.2h0M182.5 220.0h0M182.9 222.2h0M183.3 222.7h0M183.7 225.1h0M184.1 221.7h0M184.5 225.5h0M184.9 221.7h0M185.3 224.5h0M185.7 219.6h0M186.1 223.4h0M186.5 220.4h0M186.9 225.4h0M187.3 222.9h0M187.7 220.2h0M188.1 224.0h0M188.5 222.8h0M188.9 222.7h0M189.3 226.1h0M189.7 220.9h0M190.1 220.8h0M190.5 224.5h0M190.9 221.3h0M191.3 222.5h0M191.7 223.6h0M192.1 221.0h0M192.5 221.8h0M192.9 216.5h0M193.3 222.2h0M193.7 218.3h0M194.1 219.1h0M194.5 224.9h0M194.9 224.3h0M195.3 220.3h0M195.7 221.9h0M196.1 222.0h0M196.5 219.9h0M196.9 221.0h0M197.3 221.6h0M197.7 225.3h0M198.1 220.7h0M198.5 222.9h0M198.9 220.1h0M199.3 220.5h0M199.7 225.0h0M200.1 219.7h0M200.5 219.9h0M200.9 221.0h0M201.3 224.6h0M201.7 223.0h0M202.1 224.5h0M202.5 224.3h0M202.9 226.3h0M203.3 223.6h0M203.7 223.7h0M204.1 223.0h0M204.5 223.1h0M204.9 218.7h0M205.3 220.0h0M205.7 225.2h0M206.1 222.7h0M206.5 220.4h0M206.9 219.0h0M207.3 222.0h0M207.7 220.8h0M208.1 221.4h0M208.5 218.8h0M208.9 219.2h0M209.3 220.6h0M209.7 221.7h0M210.1 220.0h0M210.5 223.8h0M210.9 225.8h0M211.3 222.1h0M211.7 224.4h0M212.1 220.9h0M212.5 219.8h0M212.9 218.3h0M213.3 217.9h0M213.7 220.7h0M214.1 220.4h0M214.5 223.2h0M214.9 218.3h0M215.3 220.9h0M215.7 218.0h0M216.1 220.8h0M216.5 224.8h0M216.9 217.7h0M217.3 221.0h0M217.7 221.0h0M218.1 221.7h0M218.5 221.0h0M218.9 221.7h0M219.3 224.5h0M219.7 219.8h0M220.1 223.1h0M220.5 222.3h0M220.9 218.0h0M221.3 219.2h0M221.7 221.4h0M222.1 224.3h0M222.5 219.6h0M222.9 217.9h0M223.3 219.2h0M223.7 222.0h0M224.1 221.5h0M224.5 222.7h0M224.9 220.5h0M225.3 220.3h0M225.7 219.9h0M226.1 222.9h0M226.5 221.3h0M226.9 221.1h0M227.3 223.2h0M227.7 221.8h0M228.1 217.9h0M228.5 221.2h0M228.9 221.1h0M229.3 222.0h0M229.7 220.5h0M230.1 223.4h0M230.5 221.0h0M230.9 219.3h0M231.3 217.7h0M231.7 218.5h0M232.1 220.1h0M232.5 221.1h0M232.9 223.2h0M233.3 223.4h0M233.7 221.9h0M234.1 224.8h0M234.5 218.6h0M234.9 218.2h0M235.3 216.0h0M235.7 204.4h0M236.1 194.7h0M236.5 187.8h0M236.9 179.7h0M237.3 179.0h0M237.7 179.4h0M238.1 177.6h0M238.5 176.8h0M238.9 179.3h0M239.3 175.6h0M239.7 176.5h0M240.1 177.8h0M240.5 174.9h0M240.9 178.5h0M241.3 177.6h0M241.7 176.4h0M242.1 174.8h0M242.5 176.5h0M242.9 177.4h0M243.3 178.6h0M243.7 178.8h0M244.1 181.1h0M244.5 180.5h0M244.9 184.6h0M245.3 184.4h0M245.7 184.2h0M246.1 184.6h0M246.5 186.2h0M246.9 183.9h0M247.3 188.2h0M247.7 189.5h0M248.1 189.4h0M248.5 187.4h0M248.9 192.6h0M249.3 190.6h0M249.7 194.5h0M250.1 195.1h0M250.5 197.5h0M250.9 196.9h0M251.3 193.1h0M251.7 198.3h0M252.1 193.8h0M252.5 198.7h0M252.9 198.4h0M253.3 197.4h0M253.7 197.6h0M254.1 199.4h0M254.5 206.9h0M254.9 209.5h0M255.3 216.6h0M255.7 214.6h0M256.1 222.4h0M256.5 224.6h0M256.9 226.7h0M257.3 226.1h0M257.7 226.4h0M258.1 220.9h0M258.5 222.1h0M258.9 219.9h0M259.3 222.7h0M259.7 223.9h0M260.1 220.9h0M260.5 224.2h0M260.9 225.6h0M261.3 220.7h0M261.7 223.3h0M262.1 221.6h0M262.5 216.5h0M262.9 218.8h0M263.3 216.3h0M263.7 219.8h0M264.1 215.3h0M264.5 215.6h0M264.9 220.3h0M265.3 220.8h0M265.7 222.1h0M266.1 221.4h0M266.5 218.2h0M266.9 223.0h0M267.3 218.8h0M267.7 222.1h0M268.1 222.7h0M268.5 225.5h0M268.9 218.3h0M269.3 223.2h0M269.7 222.7h0M270.1 224.7h0M270.5 222.7h0M270.9 228.1h0M271.3 223.5h0M271.7 219.0h0M272.1 222.6h0M272.5 222.9h0M272.9 221.8h0M273.3 224.1h0M273.7 222.1h0M274.1 221.1h0M274.5 222.2h0M274.9 221.5h0M275.3 222.7h0M275.7 220.9h0M276.1 220.4h0M276.5 218.3h0M276.9 218.8h0M277.3 220.5h0M277.7 224.5h0M278.1 217.4h0M278.5 216.6h0M278.9 219.6h0M279.3 219.7h0M279.7 216.4h0M280.1 212.0h0M280.5 215.1h0M280.9 214.8h0M281.3 213.6h0M281.7 212.6h0M282.1 216.5h0M282.5 217.9h0M282.9 219.5h0M283.3 216.2h0M283.7 218.2h0M284.1 221.0h0M284.5 224.4h0M284.9 223.3h0M285.3 221.2h0M285.7 223.3h0M286.1 220.1h0M286.5 221.1h0M286.9 221.3h0M287.3 220.8h0M287.7 220.9h0M288.1 223.9h0M288.5 222.7h0M288.9 218.7h0M289.3 224.6h0M289.7 223.5h0M290.1 220.3h0M290.5 222.2h0M290.9 222.5h0M291.3 222.9h0M291.7 219.0h0M292.1 218.6h0M292.5 218.3h0M292.9 220.5h0M293.3 219.6h0M293.7 223.3h0M294.1 220.9h0M294.5 222.5h0M294.9 221.3h0M295.3 220.9h0M295.7 220.6h0M296.1 224.3h0M296.5 219.9h0M296.9 224.0h0M297.3 225.7h0M297.7 223.7h0M298.1 225.6h0M298.5 223.2h0M298.9 221.7h0M299.3 222.5h0M299.7 220.7h0M300.1 222.1h0M300.5 222.6h0" stroke="#2c6db9" stroke-width="2.6" stroke-linecap="round"/>
<rect x="176.5" y="162.6" width="127.2" height="115.2" fill="none" stroke="#474747" stroke-width="1"/>
<path d="M176.5 270.6h3.6M176.5 263.4h3.6M176.5 256.2h7.2M176.5 249.0h3.6M176.5 241.8h3.6M176.5 234.6h3.6M176.5 227.4h3.6M176.5 220.2h7.2M176.5 213.0h3.6M176.5 205.8h3.6M176.5 198.6h3.6M176.5 191.4h3.6M176.5 184.2h7.2M176.5 177.0h3.6M176.5 169.8h3.6M180.5 277.8v-3.5M200.5 277.8v-7.0M220.5 277.8v-3.5M240.5 277.8v-7.0M260.5 277.8v-3.5M280.5 277.8v-7.0M300.5 277.8v-3.5" stroke="#474747" stroke-width="1" fill="none"/>
<text x="240.1" y="154.2" text-anchor="middle" font-size="11.3"><tspan font-style="italic">P</tspan><tspan font-size="8.5" dy="3.7">in</tspan><tspan dy="-3.7"> = 5 mW</tspan></text>
<text x="200.5" y="291.6" text-anchor="middle" font-size="11.5">500</text>
<text x="240.5" y="291.6" text-anchor="middle" font-size="11.5">600</text>
<text x="280.5" y="291.6" text-anchor="middle" font-size="11.5">700</text>
</g>
<text x="130.45" y="66.3" text-anchor="middle" font-size="11.5" fill="#2c6db9"><tspan dy="-0.9">–</tspan><tspan dy="0.9">0.3 T</tspan></text>
<text x="130.45" y="116.6" text-anchor="middle" font-size="11.5" fill="#e0533a">+0.3 T</text>
<text x="262.15" y="54.3" text-anchor="middle" font-size="11.5" fill="#2c6db9"><tspan dy="-0.9">–</tspan><tspan dy="0.9">0.3 T</tspan></text>
<text x="262.45" y="114.3" text-anchor="middle" font-size="11.5" fill="#e0533a">+0.3 T</text>
<text x="126.55" y="184.1" text-anchor="middle" font-size="11.5" fill="#2c6db9"><tspan dy="-0.9">–</tspan><tspan dy="0.9">0.3 T</tspan></text>
<text x="126.55" y="267.4" text-anchor="middle" font-size="11.5" fill="#e0533a">+0.3 T</text>
<text x="272.25" y="184.1" text-anchor="middle" font-size="11.5" fill="#2c6db9"><tspan dy="-0.9">–</tspan><tspan dy="0.9">0.3 T</tspan></text>
<text x="269.65" y="269.3" text-anchor="middle" font-size="11.5" fill="#e0533a">+0.3 T</text>
<text x="47.2" y="125.6" font-size="11.6">1.53K</text>
<text x="170" y="308.8" text-anchor="middle" font-size="11.5">Frequency (MHz)</text>
<text transform="translate(9.9,151.2) rotate(-90)" text-anchor="middle" font-size="11"><tspan font-style="italic">V</tspan> (nV)</text>
<text x="-0.6" y="10.3" font-size="14" font-weight="bold">a</text>
<text x="323.6" y="10.3" font-size="14" font-weight="bold">b</text>
<path d="M368.5 24.5H643.7V275.8H368.5Z" fill="none" stroke="#474747" stroke-width="1"/>
<path d="M368.5 213.0h4M368.5 87.3h4M394.4 275.8v-3.5M420.4 275.8v-7.0M446.4 275.8v-3.5M472.4 275.8v-7.0M498.4 275.8v-3.5M524.4 275.8v-7.0M550.4 275.8v-3.5M576.4 275.8v-7.0M602.4 275.8v-3.5M628.4 275.8v-7.0M643.7 150.0h-7.5M643.7 136.0h-3.7M643.7 164.0h-3.7M643.7 122.0h-3.7M643.7 178.0h-3.7M643.7 108.0h-3.7M643.7 192.0h-3.7M643.7 94.0h-3.7M643.7 206.0h-3.7M643.7 80.0h-7.5M643.7 220.0h-7.5M643.7 66.0h-3.7M643.7 234.0h-3.7M643.7 52.0h-3.7M643.7 248.0h-3.7M643.7 38.0h-3.7M643.7 262.0h-3.7" stroke="#474747" stroke-width="1" fill="none"/>
<text x="362.8" y="28.4" text-anchor="end" font-size="11.6">10</text>
<text x="362.8" y="154.1" text-anchor="end" font-size="11.6">0</text>
<text x="362.8" y="279.8" text-anchor="end" font-size="11.6"><tspan dy="-0.9">–</tspan><tspan dy="0.9">10</tspan></text>
<text x="368.4" y="289.9" text-anchor="middle" font-size="11.6">0</text>
<text x="420.4" y="289.9" text-anchor="middle" font-size="11.6">1</text>
<text x="472.4" y="289.9" text-anchor="middle" font-size="11.6">2</text>
<text x="524.4" y="289.9" text-anchor="middle" font-size="11.6">3</text>
<text x="576.4" y="289.9" text-anchor="middle" font-size="11.6">4</text>
<text x="628.4" y="289.9" text-anchor="middle" font-size="11.6">5</text>
<text x="648.3" y="84.5" font-size="11.6">0.5</text>
<text x="648.3" y="154.2" font-size="11.6">0</text>
<text x="648.3" y="224.2" font-size="11.6">0.5</text>
<text x="506.0" y="308.4" text-anchor="middle" font-size="11.5"><tspan font-style="italic">P</tspan><tspan font-size="8.5" dy="3.8">in</tspan><tspan dy="-3.8"> (mW)</tspan></text>
<text transform="translate(333.4,149.5) rotate(-90)" text-anchor="middle" font-size="11"><tspan font-style="italic">V</tspan> (nV)</text>
<text transform="translate(677.6,151.2) rotate(90)" text-anchor="middle" font-size="11"><tspan font-style="italic">P</tspan><tspan font-size="8.5" dy="3">abs</tspan><tspan dy="-3"> (μW)</tspan></text>
<path d="M373.6 139.0V145.0M370.0 139.0h7.2M370.0 145.0h7.2M378.8 135.6V141.6M375.2 135.6h7.2M375.2 141.6h7.2M389.2 125.5V131.5M385.6 125.5h7.2M385.6 131.5h7.2M394.4 124.0V131.0M390.8 124.0h7.2M390.8 131.0h7.2M404.8 119.2V126.2M401.2 119.2h7.2M401.2 126.2h7.2M420.4 113.5V120.5M416.8 113.5h7.2M416.8 120.5h7.2M472.4 91.2V104.4M468.8 91.2h7.2M468.8 104.4h7.2M524.4 66.2V92.8M520.8 66.2h7.2M520.8 92.8h7.2M576.4 44.9V77.1M572.8 44.9h7.2M572.8 77.1h7.2M628.4 28.4V72.8M624.8 28.4h7.2M624.8 72.8h7.2M373.6 153.5V159.5M370.0 153.5h7.2M370.0 159.5h7.2M378.8 159.0V165.0M375.2 159.0h7.2M375.2 165.0h7.2M389.2 168.0V174.0M385.6 168.0h7.2M385.6 174.0h7.2M394.4 170.8V176.8M390.8 170.8h7.2M390.8 176.8h7.2M404.8 175.7V181.7M401.2 175.7h7.2M401.2 181.7h7.2M420.4 181.1V188.1M416.8 181.1h7.2M416.8 188.1h7.2M472.4 194.8V205.4M468.8 194.8h7.2M468.8 205.4h7.2M524.4 211.7V227.7M520.8 211.7h7.2M520.8 227.7h7.2M576.4 220.3V247.3M572.8 220.3h7.2M572.8 247.3h7.2M628.4 235.2V260.2M624.8 235.2h7.2M624.8 260.2h7.2" stroke="#a45a55" stroke-width="1" fill="none"/>
<path d="M373.6 138.8L377.1 144.7H370.1ZM378.8 135.4L382.3 141.3H375.3ZM389.2 125.3L392.7 131.2H385.7ZM394.4 124.3L397.9 130.2H390.9ZM404.8 119.5L408.3 125.4H401.3ZM420.4 113.8L423.9 119.7H416.9ZM472.4 94.6L475.9 100.5H468.9ZM524.4 76.3L527.9 82.2H520.9ZM576.4 57.8L579.9 63.7H572.9ZM628.4 47.4L631.9 53.3H624.9ZM373.6 153.3L377.1 159.2H370.1ZM378.8 158.8L382.3 164.7H375.3ZM404.8 175.5L408.3 181.4H401.3ZM420.4 181.4L423.9 187.3H416.9ZM472.4 196.9L475.9 202.8H468.9ZM524.4 216.5L527.9 222.4H520.9ZM576.4 230.6L579.9 236.5H572.9ZM628.4 244.5L631.9 250.4H624.9Z" stroke="#8f3a36" stroke-width="1.05" fill="#fff" stroke-linejoin="miter"/>
<path d="M378.8 141.8V157.8M375.2 141.8h7.2M375.2 157.8h7.2M389.2 161.0V181.0M385.6 161.0h7.2M385.6 181.0h7.2M394.4 164.8V182.8M390.8 164.8h7.2M390.8 182.8h7.2M404.8 185.5V202.5M401.2 185.5h7.2M401.2 202.5h7.2M420.4 191.2V207.2M416.8 191.2h7.2M416.8 207.2h7.2M472.4 203.0V217.4M468.8 203.0h7.2M468.8 217.4h7.2M524.4 209.8V227.8M520.8 209.8h7.2M520.8 227.8h7.2M576.4 210.9V230.9M572.8 210.9h7.2M572.8 230.9h7.2M628.4 225.6V246.6M624.8 225.6h7.2M624.8 246.6h7.2" stroke="#e0533a" stroke-width="1" fill="none"/>
<circle cx="378.8" cy="149.8" r="3.4" fill="#e0533a"/>
<circle cx="389.2" cy="171.0" r="3.4" fill="#e0533a"/>
<circle cx="394.4" cy="173.8" r="3.4" fill="#e0533a"/>
<circle cx="404.8" cy="194.0" r="3.4" fill="#e0533a"/>
<circle cx="420.4" cy="199.2" r="3.4" fill="#e0533a"/>
<circle cx="472.4" cy="210.2" r="3.4" fill="#e0533a"/>
<circle cx="524.4" cy="218.8" r="3.4" fill="#e0533a"/>
<circle cx="576.4" cy="220.9" r="3.4" fill="#e0533a"/>
<circle cx="628.4" cy="236.1" r="3.4" fill="#e0533a"/>
<path d="M373.6 142.0V158.0M370.0 142.0h7.2M370.0 158.0h7.2M378.8 121.8V140.4M375.2 121.8h7.2M375.2 140.4h7.2M389.2 123.0V141.8M385.6 123.0h7.2M385.6 141.8h7.2M394.4 115.2V132.8M390.8 115.2h7.2M390.8 132.8h7.2M404.8 111.9V126.9M401.2 111.9h7.2M401.2 126.9h7.2M420.4 99.3V114.1M416.8 99.3h7.2M416.8 114.1h7.2M472.4 76.3V95.5M468.8 76.3h7.2M468.8 95.5h7.2M524.4 71.9V91.1M520.8 71.9h7.2M520.8 91.1h7.2M576.4 68.8V89.2M572.8 68.8h7.2M572.8 89.2h7.2M628.4 56.0V76.4M624.8 56.0h7.2M624.8 76.4h7.2" stroke="#2c6db9" stroke-width="1" fill="none"/>
<circle cx="373.6" cy="150.0" r="3.4" fill="#2c6db9"/>
<circle cx="378.8" cy="131.1" r="3.4" fill="#2c6db9"/>
<circle cx="389.2" cy="132.4" r="3.4" fill="#2c6db9"/>
<circle cx="394.4" cy="124.0" r="3.4" fill="#2c6db9"/>
<circle cx="404.8" cy="119.4" r="3.4" fill="#2c6db9"/>
<circle cx="420.4" cy="106.7" r="3.4" fill="#2c6db9"/>
<circle cx="472.4" cy="85.9" r="3.4" fill="#2c6db9"/>
<circle cx="524.4" cy="81.5" r="3.4" fill="#2c6db9"/>
<circle cx="576.4" cy="79.0" r="3.4" fill="#2c6db9"/>
<circle cx="628.4" cy="66.2" r="3.4" fill="#2c6db9"/>
<text x="417.4" y="71.2" font-size="11.2" fill="#2c6db9"><tspan font-style="italic">V</tspan> (<tspan dy="-0.9">–</tspan><tspan dy="0.9">0.3 T)</tspan></text>
<path d="M421.5 81.9H456" stroke="#2c6db9" stroke-width="1"/><path d="M421 81.9l7.5 -1.9v3.8z" fill="#2c6db9"/>
<path d="M438.5 118.2H473" stroke="#8c3030" stroke-width="1"/><path d="M474.3 118.2l-7.5 -1.9v3.8z" fill="#8c3030"/>
<text x="421.8" y="133.8" font-size="11.2" fill="#8c3030"><tspan font-style="italic">P</tspan><tspan font-size="8.2" dy="3">abs</tspan><tspan dy="-3" font-size="11.6"> (<tspan dy="-0.9">–</tspan><tspan dy="0.9">0.3 T)</tspan></tspan></text>
<text x="425.0" y="174.5" font-size="11.2" fill="#8c3030"><tspan font-style="italic">P</tspan><tspan font-size="8.2" dy="3">abs</tspan><tspan dy="-3" font-size="11.6"> (+0.3 T)</tspan></text>
<path d="M442 186H475.5" stroke="#8c3030" stroke-width="1"/><path d="M477.2 186l-7.5 -1.9v3.8z" fill="#8c3030"/>
<path d="M415 222.4H449" stroke="#e0533a" stroke-width="1"/><path d="M414.2 222.4l7.5 -1.9v3.8z" fill="#e0533a"/>
<text x="394.6" y="243.1" font-size="11.5" fill="#e0533a"><tspan font-style="italic">V</tspan> (+0.3 T)</text>
<g><polygon points="547.3,118.4 634.8,118.4 634.8,171 629.2,194.6 541.3,194.6 541.3,150 545.4,133.4" fill="#cad8a4"/><polygon points="547.3,118.4 545.4,133.4 542.7,162.4 541.3,194.6 541.3,150" fill="#c9ced8"/><polygon points="547.3,118.4 634.8,118.4 634.8,133.4 545.4,133.4" fill="#b8c0cc"/><polygon points="545.4,133.4 629.2,133.4 629.2,149.6 544.3,149.6" fill="#a3b394"/><polygon points="544.3,149.6 629.2,149.6 629.2,162.4 542.7,162.4" fill="#aebd9c"/><polygon points="629.2,133.4 634.8,133.4 634.8,171 629.2,194.6" fill="#bfce9b"/><path d="M545.6 135.6V105.6H579.8M592.2 106.3H627.3M630.8 107V137.3" stroke="#555" stroke-width="0.9" fill="none"/><circle cx="586.1" cy="103.4" r="6.5" fill="#fff" stroke="#333" stroke-width="0.9"/><text x="586.1" y="107.8" text-anchor="middle" font-size="11.2" fill="#222" stroke="#222" stroke-width="0.25">V</text><polygon points="551.9,126.2 578,122.6 578,124.7 623,124.3 623,127.7 578,127.5 578,129.7" fill="#e0533a"/><text x="550.8" y="139.8" font-size="11.45" fill="#1e1e1e">Charge current</text><polygon points="553.3,144.7 597,145.4 596.7,143.3 623.8,147.6 596.7,150.9 597,148.6 553.3,147.9" fill="#3a47b0"/><text x="543.4" y="157.9" font-size="8.7" fill="#222">Pt</text><text x="543.4" y="169.5" font-size="8.7" fill="#222">MnCO<tspan font-size="6.8" dy="2">3</tspan></text><polygon points="586.3,149.6 590.4,158 587.8,157.6 587.8,180 584.6,180.8 584.6,161.5 582.2,163.5" fill="#e41f8c"/><text x="589.1" y="170.1" font-size="8.75" fill="#e0208a" stroke="#e0208a" stroke-width="0.15">Spin current</text><ellipse cx="571.3" cy="189.4" rx="6.2" ry="3.6" fill="none" stroke="#e0603a" stroke-width="0.6" stroke-dasharray="1 0.7"/><path d="M565.6 188.3l1.8 -1.2l0.2 2.2z" fill="#e0403a"/><circle cx="576.4" cy="178.0" r="3.5" fill="#e08a3c"/><path d="M575.3 178.3h2.3l4 5.4q0 3.6 -5.1 3.8q-5.1 -0.2 -5.1 -3.8z" fill="#b0222c"/><path d="M576 180v6" stroke="#e87880" stroke-width="0.6"/><ellipse cx="601.3" cy="178.6" rx="5.6" ry="3.7" fill="none" stroke="#3a4ab8" stroke-width="0.6" stroke-dasharray="1 0.7"/><path d="M606.9 181.2l-2.4 0.4l1.4 -2.2z" fill="#3a4ab8"/><circle cx="596.4" cy="189.3" r="3.6" fill="#e08a3c"/><path d="M591.6 182.2q0 -3.9 4.8 -3.9q4.8 0 4.8 3.9l-3.6 4.1h-2.4z" fill="#2a3aa8"/><path d="M596.4 183v4" stroke="#8090e0" stroke-width="0.6"/><text x="554.4" y="201.2" font-size="7.6">55</text><text x="563.2" y="208.1" font-size="11.4">Mn nucleus</text></g>
<text x="522.4" y="120.5" font-size="11.6" font-style="italic" fill="#e0533a">+H</text>
<path d="M521.4 160.2L529.6 127.5" stroke="#e0533a" stroke-width="1"/><path d="M530.6 123.8l0.3 6.6l-4.4 -1.1z" fill="#e0533a"/>
<text x="515.8" y="190.3" font-size="11.6" font-style="italic" fill="#3a47b0"><tspan dy="-0.9">–</tspan><tspan dy="0.9">H</tspan></text>
<path d="M534.6 142.1L526.8 174.6" stroke="#3a47b0" stroke-width="1"/><path d="M525.8 178.4l-0.5 -6.6l4.4 1.1z" fill="#3a47b0"/>
</g>
</svg>
</body></html>
